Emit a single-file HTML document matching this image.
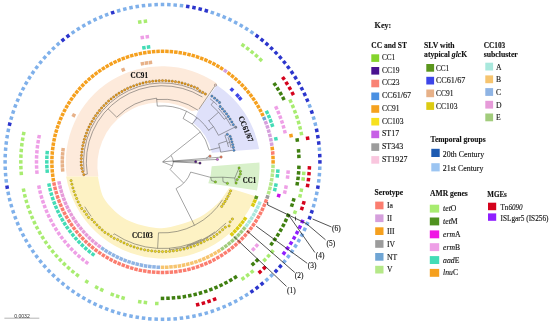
<!DOCTYPE html><html><head><meta charset="utf-8"><title>Figure</title><style>html,body{margin:0;padding:0;background:#fff}svg{display:block}</style></head><body><svg width="550" height="324" viewBox="0 0 550 324">
<rect width="550" height="324" fill="#fff"/>
<path d="M216.8 83.3A96.2 96.2 0 0 0 66.8 176.5L98.4 176.5A62.8 62.8 0 0 1 192 111.2L199 109.8Z" fill="#fdeadb"/>
<path d="M66.1 176.5A98.9 98.9 0 0 0 255.5 196.2L229.2 187.9C227.2 190.6 221.9 199.2 217.0 204.1C212.1 209.0 206.2 213.7 200.0 217.1C193.8 220.5 186.4 222.7 180.0 224.5C173.6 226.3 167.5 227.9 161.8 228.2C156.1 228.5 151.3 227.5 146.0 226.3C140.7 225.2 134.8 223.4 130.0 221.3C125.2 219.2 121.9 217.5 117.5 213.5C113.1 209.5 106.8 203.7 103.5 197.5C100.2 191.3 98.8 180.0 97.8 176.5Z" fill="#fdf2c4"/>
<path d="M217 85.2A97 97 0 0 1 259.1 149.1L211.9 152.8A50.5 50.5 0 0 0 193 122.8L198.5 110.2Z" fill="#dfe1fa"/>
<path d="M211.7 166.3L259.4 162.6A97 97 0 0 1 257 190.4L208.3 183.3A50 50 0 0 0 211.7 166.3Z" fill="#d8f0ca"/>
<path d="M162.5 161.9L171.3 155.3M162.5 161.9L172.2 165.8M170.1 169.5A10.7 10.7 0 0 0 171.1 155.5M171.1 155.1L200.2 132.1M209.1 150.2A48 48 0 0 0 183.1 118.5M183.1 118.5L186.5 111.3M209.1 130.8A56 56 0 0 0 157.3 106.1M192.1 124.1L197.0 117.8M157.3 106.1L156.6 98.2M156.6 98.2A64 64 0 0 0 116.7 117.2M198.1 110.3A62.7 62.7 0 0 0 156.7 99.5M198.9 109.2L214.8 86.2M116.7 117.2L108.0 108.7M202.4 97.0A76.2 76.2 0 0 0 87.3 174.1M202.0 93.5A79 79 0 0 0 84.1 171.4M87.3 174.1L84.5 174.6M208.6 130.1L213.5 126.7M218.5 135.3A62 62 0 0 0 208.4 120.2M218.5 135.3L234.3 127.4M208.9 120.8L218.6 112.2M224.2 119.3A75 75 0 0 0 211.1 104.8M211.1 104.8L213.7 101.7M217.2 104.9A79 79 0 0 0 210.0 98.7M224.2 119.3L226.3 117.9M231.1 125.9A77.5 77.5 0 0 0 218.4 108.2M209.1 150.2L219.7 147.5M220.7 152.2A59 59 0 0 0 218.6 143.7M220.7 152.2L232.0 150.3M218.6 143.7L226.9 141.0M228.5 147.0A67.7 67.7 0 0 0 224.9 135.6M231.1 147.9A70 70 0 0 0 228.0 137.1M224.9 135.6L226.5 134.9M227.5 143.1L229.7 142.4M163.0 161.8L173.0 161.0L206.0 158.3L209.0 156.3M206.0 158.3L220.0 157.2M173.0 161.3L216.5 159.5M173.0 161.6L195.0 161.8M173.0 161.8L199.5 163.2M170.1 169.5L183.4 182.8M176.1 188.6A30 30 0 0 0 190.7 172.1M190.7 172.1L210.7 177.4L222.8 177.2L234.8 178.0M210.7 177.4L211.5 180.5L214.6 181.6M222.8 177.2L223.0 181.7L226.5 183.1M234.8 178.0L235.4 182.5M234.8 178.0L238.6 169.0M176.0 188.7L194.5 225.3M158.5 232.8A71 71 0 0 0 222.5 199.8M158.5 232.8L157.6 248.4M114.2 233.8A86.6 86.6 0 0 0 201.8 239.1M169.6 249.8A88.2 88.2 0 0 0 226.1 223.0M169.5 248.2L169.6 249.8M84.8 206.7A89.7 89.7 0 0 0 91.2 216.4M114.2 233.8L113.4 234.9M186.8 245.8A87.4 87.4 0 0 0 215.0 231.8" fill="none" stroke="#4a4a4a" stroke-width="0.5"/>
<circle cx="205.4" cy="94.0" r="1.17" fill="#f5a21f" stroke="#3a3000" stroke-opacity="0.7" stroke-width="0.42"/>
<circle cx="202.7" cy="92.4" r="1.17" fill="#f5a21f" stroke="#3a3000" stroke-opacity="0.7" stroke-width="0.42"/>
<circle cx="199.8" cy="90.8" r="1.17" fill="#f5a21f" stroke="#3a3000" stroke-opacity="0.7" stroke-width="0.42"/>
<circle cx="197.4" cy="88.4" r="1.17" fill="#f5a21f" stroke="#3a3000" stroke-opacity="0.7" stroke-width="0.42"/>
<circle cx="194.4" cy="87.1" r="1.17" fill="#f5a21f" stroke="#3a3000" stroke-opacity="0.7" stroke-width="0.42"/>
<circle cx="191.3" cy="85.9" r="1.17" fill="#f5a21f" stroke="#3a3000" stroke-opacity="0.7" stroke-width="0.42"/>
<circle cx="188.2" cy="84.8" r="1.17" fill="#f5a21f" stroke="#3a3000" stroke-opacity="0.7" stroke-width="0.42"/>
<circle cx="185.1" cy="83.8" r="1.17" fill="#f5a21f" stroke="#3a3000" stroke-opacity="0.7" stroke-width="0.42"/>
<circle cx="182.0" cy="83.0" r="1.17" fill="#f5a21f" stroke="#3a3000" stroke-opacity="0.7" stroke-width="0.42"/>
<circle cx="178.8" cy="82.2" r="1.17" fill="#f5a21f" stroke="#3a3000" stroke-opacity="0.7" stroke-width="0.42"/>
<circle cx="175.5" cy="81.7" r="1.17" fill="#f5a21f" stroke="#3a3000" stroke-opacity="0.7" stroke-width="0.42"/>
<circle cx="172.3" cy="81.2" r="1.17" fill="#f5a21f" stroke="#3a3000" stroke-opacity="0.7" stroke-width="0.42"/>
<circle cx="169.0" cy="80.9" r="1.17" fill="#f5a21f" stroke="#3a3000" stroke-opacity="0.7" stroke-width="0.42"/>
<circle cx="165.8" cy="80.7" r="1.17" fill="#f5a21f" stroke="#3a3000" stroke-opacity="0.7" stroke-width="0.42"/>
<circle cx="162.5" cy="80.6" r="1.17" fill="#f5a21f" stroke="#3a3000" stroke-opacity="0.7" stroke-width="0.42"/>
<circle cx="159.2" cy="80.7" r="1.17" fill="#f5a21f" stroke="#3a3000" stroke-opacity="0.7" stroke-width="0.42"/>
<circle cx="156.0" cy="80.9" r="1.17" fill="#f5a21f" stroke="#3a3000" stroke-opacity="0.7" stroke-width="0.42"/>
<circle cx="152.7" cy="81.2" r="1.17" fill="#f5a21f" stroke="#3a3000" stroke-opacity="0.7" stroke-width="0.42"/>
<circle cx="149.5" cy="81.7" r="1.17" fill="#f5a21f" stroke="#3a3000" stroke-opacity="0.7" stroke-width="0.42"/>
<circle cx="146.2" cy="82.2" r="1.17" fill="#f5a21f" stroke="#3a3000" stroke-opacity="0.7" stroke-width="0.42"/>
<circle cx="143.0" cy="83.0" r="1.17" fill="#f5a21f" stroke="#3a3000" stroke-opacity="0.7" stroke-width="0.42"/>
<circle cx="139.9" cy="83.8" r="1.17" fill="#f5a21f" stroke="#3a3000" stroke-opacity="0.7" stroke-width="0.42"/>
<circle cx="136.8" cy="84.8" r="1.17" fill="#f5a21f" stroke="#3a3000" stroke-opacity="0.7" stroke-width="0.42"/>
<circle cx="133.7" cy="85.9" r="1.17" fill="#f5a21f" stroke="#3a3000" stroke-opacity="0.7" stroke-width="0.42"/>
<circle cx="130.6" cy="87.1" r="1.17" fill="#f5a21f" stroke="#3a3000" stroke-opacity="0.7" stroke-width="0.42"/>
<circle cx="127.6" cy="88.4" r="1.17" fill="#f5a21f" stroke="#3a3000" stroke-opacity="0.7" stroke-width="0.42"/>
<circle cx="124.7" cy="89.9" r="1.17" fill="#f5a21f" stroke="#3a3000" stroke-opacity="0.7" stroke-width="0.42"/>
<circle cx="121.9" cy="91.5" r="1.17" fill="#f5a21f" stroke="#3a3000" stroke-opacity="0.7" stroke-width="0.42"/>
<circle cx="119.0" cy="93.2" r="1.17" fill="#f5a21f" stroke="#3a3000" stroke-opacity="0.7" stroke-width="0.42"/>
<circle cx="116.3" cy="95.0" r="1.17" fill="#f5a21f" stroke="#3a3000" stroke-opacity="0.7" stroke-width="0.42"/>
<circle cx="113.7" cy="96.9" r="1.17" fill="#f5a21f" stroke="#3a3000" stroke-opacity="0.7" stroke-width="0.42"/>
<circle cx="111.1" cy="98.9" r="1.17" fill="#f5a21f" stroke="#3a3000" stroke-opacity="0.7" stroke-width="0.42"/>
<circle cx="108.6" cy="101.0" r="1.17" fill="#f5a21f" stroke="#3a3000" stroke-opacity="0.7" stroke-width="0.42"/>
<circle cx="106.2" cy="103.3" r="1.17" fill="#f5a21f" stroke="#3a3000" stroke-opacity="0.7" stroke-width="0.42"/>
<circle cx="103.9" cy="105.6" r="1.17" fill="#f5a21f" stroke="#3a3000" stroke-opacity="0.7" stroke-width="0.42"/>
<circle cx="101.6" cy="108.0" r="1.17" fill="#f5a21f" stroke="#3a3000" stroke-opacity="0.7" stroke-width="0.42"/>
<circle cx="99.5" cy="110.5" r="1.17" fill="#f5a21f" stroke="#3a3000" stroke-opacity="0.7" stroke-width="0.42"/>
<circle cx="97.5" cy="113.1" r="1.17" fill="#f5a21f" stroke="#3a3000" stroke-opacity="0.7" stroke-width="0.42"/>
<circle cx="95.6" cy="115.7" r="1.17" fill="#f5a21f" stroke="#3a3000" stroke-opacity="0.7" stroke-width="0.42"/>
<circle cx="93.8" cy="118.4" r="1.17" fill="#f5a21f" stroke="#3a3000" stroke-opacity="0.7" stroke-width="0.42"/>
<circle cx="92.1" cy="121.3" r="1.17" fill="#f5a21f" stroke="#3a3000" stroke-opacity="0.7" stroke-width="0.42"/>
<circle cx="90.5" cy="124.1" r="1.17" fill="#f5a21f" stroke="#3a3000" stroke-opacity="0.7" stroke-width="0.42"/>
<circle cx="89.0" cy="127.0" r="1.17" fill="#f5a21f" stroke="#3a3000" stroke-opacity="0.7" stroke-width="0.42"/>
<circle cx="87.7" cy="130.0" r="1.17" fill="#f5a21f" stroke="#3a3000" stroke-opacity="0.7" stroke-width="0.42"/>
<circle cx="86.5" cy="133.1" r="1.17" fill="#f5a21f" stroke="#3a3000" stroke-opacity="0.7" stroke-width="0.42"/>
<circle cx="85.4" cy="136.2" r="1.17" fill="#f5a21f" stroke="#3a3000" stroke-opacity="0.7" stroke-width="0.42"/>
<circle cx="84.4" cy="139.3" r="1.17" fill="#f5a21f" stroke="#3a3000" stroke-opacity="0.7" stroke-width="0.42"/>
<circle cx="83.6" cy="142.4" r="1.17" fill="#f5a21f" stroke="#3a3000" stroke-opacity="0.7" stroke-width="0.42"/>
<circle cx="82.8" cy="145.6" r="1.17" fill="#f5a21f" stroke="#3a3000" stroke-opacity="0.7" stroke-width="0.42"/>
<circle cx="82.3" cy="148.9" r="1.17" fill="#f5a21f" stroke="#3a3000" stroke-opacity="0.7" stroke-width="0.42"/>
<circle cx="81.8" cy="152.1" r="1.17" fill="#f5a21f" stroke="#3a3000" stroke-opacity="0.7" stroke-width="0.42"/>
<circle cx="81.5" cy="155.4" r="1.17" fill="#f5a21f" stroke="#3a3000" stroke-opacity="0.7" stroke-width="0.42"/>
<circle cx="81.3" cy="158.6" r="1.17" fill="#f5a21f" stroke="#3a3000" stroke-opacity="0.7" stroke-width="0.42"/>
<circle cx="81.2" cy="161.9" r="1.17" fill="#f5a21f" stroke="#3a3000" stroke-opacity="0.7" stroke-width="0.42"/>
<circle cx="81.3" cy="165.2" r="1.17" fill="#f5a21f" stroke="#3a3000" stroke-opacity="0.7" stroke-width="0.42"/>
<circle cx="81.8" cy="168.4" r="1.17" fill="#f5a21f" stroke="#3a3000" stroke-opacity="0.7" stroke-width="0.42"/>
<circle cx="82.7" cy="171.6" r="1.17" fill="#f5a21f" stroke="#3a3000" stroke-opacity="0.7" stroke-width="0.42"/>
<circle cx="83.8" cy="174.7" r="1.17" fill="#f5a21f" stroke="#3a3000" stroke-opacity="0.7" stroke-width="0.42"/>
<circle cx="215.5" cy="85.1" r="1.17" fill="#e3c8d2" stroke="#3a3000" stroke-opacity="0.7" stroke-width="0.42"/>
<circle cx="219.5" cy="102.5" r="1.17" fill="#4a90e2" stroke="#3a3000" stroke-opacity="0.7" stroke-width="0.42"/>
<circle cx="217.1" cy="100.3" r="1.17" fill="#4a90e2" stroke="#3a3000" stroke-opacity="0.7" stroke-width="0.42"/>
<circle cx="214.6" cy="98.2" r="1.17" fill="#4a90e2" stroke="#3a3000" stroke-opacity="0.7" stroke-width="0.42"/>
<circle cx="211.9" cy="96.1" r="1.17" fill="#4a90e2" stroke="#3a3000" stroke-opacity="0.7" stroke-width="0.42"/>
<circle cx="233.3" cy="124.7" r="1.17" fill="#4a90e2" stroke="#3a3000" stroke-opacity="0.7" stroke-width="0.42"/>
<circle cx="231.8" cy="121.9" r="1.17" fill="#4a90e2" stroke="#3a3000" stroke-opacity="0.7" stroke-width="0.42"/>
<circle cx="230.1" cy="119.1" r="1.17" fill="#4a90e2" stroke="#3a3000" stroke-opacity="0.7" stroke-width="0.42"/>
<circle cx="228.3" cy="116.5" r="1.17" fill="#4a90e2" stroke="#3a3000" stroke-opacity="0.7" stroke-width="0.42"/>
<circle cx="226.5" cy="113.8" r="1.17" fill="#4a90e2" stroke="#3a3000" stroke-opacity="0.7" stroke-width="0.42"/>
<circle cx="224.5" cy="111.3" r="1.17" fill="#4a90e2" stroke="#3a3000" stroke-opacity="0.7" stroke-width="0.42"/>
<circle cx="222.4" cy="108.9" r="1.17" fill="#4a90e2" stroke="#3a3000" stroke-opacity="0.7" stroke-width="0.42"/>
<circle cx="220.2" cy="106.5" r="1.17" fill="#4a90e2" stroke="#3a3000" stroke-opacity="0.7" stroke-width="0.42"/>
<circle cx="235.7" cy="127.2" r="1.17" fill="#7f8fb5" stroke="#3a3000" stroke-opacity="0.7" stroke-width="0.42"/>
<circle cx="233.9" cy="150.3" r="1.17" fill="#4a90e2" stroke="#3a3000" stroke-opacity="0.7" stroke-width="0.42"/>
<circle cx="233.3" cy="147.4" r="1.17" fill="#4a90e2" stroke="#3a3000" stroke-opacity="0.7" stroke-width="0.42"/>
<circle cx="232.7" cy="144.6" r="1.17" fill="#4a90e2" stroke="#3a3000" stroke-opacity="0.7" stroke-width="0.42"/>
<circle cx="231.9" cy="141.8" r="1.17" fill="#4a90e2" stroke="#3a3000" stroke-opacity="0.7" stroke-width="0.42"/>
<circle cx="231.1" cy="139.0" r="1.17" fill="#4a90e2" stroke="#3a3000" stroke-opacity="0.7" stroke-width="0.42"/>
<circle cx="230.1" cy="136.3" r="1.17" fill="#4a90e2" stroke="#3a3000" stroke-opacity="0.7" stroke-width="0.42"/>
<circle cx="227.3" cy="134.3" r="1.17" fill="#4a90e2" stroke="#3a3000" stroke-opacity="0.7" stroke-width="0.42"/>
<circle cx="71.1" cy="180.6" r="1.17" fill="#f7e11e" stroke="#3a3000" stroke-opacity="0.7" stroke-width="0.42"/>
<circle cx="71.9" cy="184.2" r="1.17" fill="#f7e11e" stroke="#3a3000" stroke-opacity="0.7" stroke-width="0.42"/>
<circle cx="72.9" cy="187.9" r="1.17" fill="#f7e11e" stroke="#3a3000" stroke-opacity="0.7" stroke-width="0.42"/>
<circle cx="74.0" cy="191.4" r="1.17" fill="#f7e11e" stroke="#3a3000" stroke-opacity="0.7" stroke-width="0.42"/>
<circle cx="75.3" cy="195.0" r="1.17" fill="#f7e11e" stroke="#3a3000" stroke-opacity="0.7" stroke-width="0.42"/>
<circle cx="76.7" cy="198.5" r="1.17" fill="#f7e11e" stroke="#3a3000" stroke-opacity="0.7" stroke-width="0.42"/>
<circle cx="78.2" cy="201.9" r="1.17" fill="#f7e11e" stroke="#3a3000" stroke-opacity="0.7" stroke-width="0.42"/>
<circle cx="79.9" cy="205.3" r="1.17" fill="#f7e11e" stroke="#3a3000" stroke-opacity="0.7" stroke-width="0.42"/>
<circle cx="81.7" cy="208.5" r="1.17" fill="#f7e11e" stroke="#3a3000" stroke-opacity="0.7" stroke-width="0.42"/>
<circle cx="84.4" cy="211.3" r="1.17" fill="#f7e11e" stroke="#3a3000" stroke-opacity="0.7" stroke-width="0.42"/>
<circle cx="86.5" cy="214.4" r="1.17" fill="#f7e11e" stroke="#3a3000" stroke-opacity="0.7" stroke-width="0.42"/>
<circle cx="88.6" cy="217.4" r="1.17" fill="#f7e11e" stroke="#3a3000" stroke-opacity="0.7" stroke-width="0.42"/>
<circle cx="92.0" cy="219.5" r="1.17" fill="#f7e11e" stroke="#3a3000" stroke-opacity="0.7" stroke-width="0.42"/>
<circle cx="94.4" cy="222.2" r="1.17" fill="#f7e11e" stroke="#3a3000" stroke-opacity="0.7" stroke-width="0.42"/>
<circle cx="96.9" cy="224.9" r="1.17" fill="#f7e11e" stroke="#3a3000" stroke-opacity="0.7" stroke-width="0.42"/>
<circle cx="99.5" cy="227.5" r="1.17" fill="#f7e11e" stroke="#3a3000" stroke-opacity="0.7" stroke-width="0.42"/>
<circle cx="102.2" cy="230.0" r="1.17" fill="#f7e11e" stroke="#3a3000" stroke-opacity="0.7" stroke-width="0.42"/>
<circle cx="104.9" cy="232.4" r="1.17" fill="#f7e11e" stroke="#3a3000" stroke-opacity="0.7" stroke-width="0.42"/>
<circle cx="108.2" cy="234.2" r="1.17" fill="#f7e11e" stroke="#3a3000" stroke-opacity="0.7" stroke-width="0.42"/>
<circle cx="111.1" cy="236.3" r="1.17" fill="#f7e11e" stroke="#3a3000" stroke-opacity="0.7" stroke-width="0.42"/>
<circle cx="114.2" cy="238.3" r="1.17" fill="#f7e11e" stroke="#3a3000" stroke-opacity="0.7" stroke-width="0.42"/>
<circle cx="117.6" cy="239.6" r="1.17" fill="#f7e11e" stroke="#3a3000" stroke-opacity="0.7" stroke-width="0.42"/>
<circle cx="120.8" cy="241.3" r="1.17" fill="#f7e11e" stroke="#3a3000" stroke-opacity="0.7" stroke-width="0.42"/>
<circle cx="124.0" cy="242.9" r="1.17" fill="#f7e11e" stroke="#3a3000" stroke-opacity="0.7" stroke-width="0.42"/>
<circle cx="127.3" cy="244.4" r="1.17" fill="#f7e11e" stroke="#3a3000" stroke-opacity="0.7" stroke-width="0.42"/>
<circle cx="130.7" cy="245.8" r="1.17" fill="#f7e11e" stroke="#3a3000" stroke-opacity="0.7" stroke-width="0.42"/>
<circle cx="134.1" cy="247.0" r="1.17" fill="#f7e11e" stroke="#3a3000" stroke-opacity="0.7" stroke-width="0.42"/>
<circle cx="137.5" cy="248.1" r="1.17" fill="#f7e11e" stroke="#3a3000" stroke-opacity="0.7" stroke-width="0.42"/>
<circle cx="141.0" cy="249.0" r="1.17" fill="#f7e11e" stroke="#3a3000" stroke-opacity="0.7" stroke-width="0.42"/>
<circle cx="144.6" cy="249.8" r="1.17" fill="#f7e11e" stroke="#3a3000" stroke-opacity="0.7" stroke-width="0.42"/>
<circle cx="148.1" cy="250.4" r="1.17" fill="#f7e11e" stroke="#3a3000" stroke-opacity="0.7" stroke-width="0.42"/>
<circle cx="151.7" cy="250.9" r="1.17" fill="#f7e11e" stroke="#3a3000" stroke-opacity="0.7" stroke-width="0.42"/>
<circle cx="155.3" cy="251.3" r="1.17" fill="#f7e11e" stroke="#3a3000" stroke-opacity="0.7" stroke-width="0.42"/>
<circle cx="158.9" cy="251.5" r="1.17" fill="#f7e11e" stroke="#3a3000" stroke-opacity="0.7" stroke-width="0.42"/>
<circle cx="162.5" cy="251.6" r="1.17" fill="#f7e11e" stroke="#3a3000" stroke-opacity="0.7" stroke-width="0.42"/>
<circle cx="166.1" cy="251.5" r="1.17" fill="#f7e11e" stroke="#3a3000" stroke-opacity="0.7" stroke-width="0.42"/>
<circle cx="169.7" cy="251.3" r="1.17" fill="#f7e11e" stroke="#3a3000" stroke-opacity="0.7" stroke-width="0.42"/>
<circle cx="173.3" cy="250.9" r="1.17" fill="#f7e11e" stroke="#3a3000" stroke-opacity="0.7" stroke-width="0.42"/>
<circle cx="176.9" cy="250.4" r="1.17" fill="#f7e11e" stroke="#3a3000" stroke-opacity="0.7" stroke-width="0.42"/>
<circle cx="180.4" cy="249.8" r="1.17" fill="#f7e11e" stroke="#3a3000" stroke-opacity="0.7" stroke-width="0.42"/>
<circle cx="184.0" cy="249.0" r="1.17" fill="#f7e11e" stroke="#3a3000" stroke-opacity="0.7" stroke-width="0.42"/>
<circle cx="187.5" cy="248.1" r="1.17" fill="#f7e11e" stroke="#3a3000" stroke-opacity="0.7" stroke-width="0.42"/>
<circle cx="190.9" cy="247.0" r="1.17" fill="#f7e11e" stroke="#3a3000" stroke-opacity="0.7" stroke-width="0.42"/>
<circle cx="194.3" cy="245.8" r="1.17" fill="#f7e11e" stroke="#3a3000" stroke-opacity="0.7" stroke-width="0.42"/>
<circle cx="197.7" cy="244.4" r="1.17" fill="#f7e11e" stroke="#3a3000" stroke-opacity="0.7" stroke-width="0.42"/>
<circle cx="201.0" cy="242.9" r="1.17" fill="#f7e11e" stroke="#3a3000" stroke-opacity="0.7" stroke-width="0.42"/>
<circle cx="204.2" cy="241.3" r="1.17" fill="#f7e11e" stroke="#3a3000" stroke-opacity="0.7" stroke-width="0.42"/>
<circle cx="207.4" cy="239.6" r="1.17" fill="#f7e11e" stroke="#3a3000" stroke-opacity="0.7" stroke-width="0.42"/>
<circle cx="210.9" cy="238.5" r="1.17" fill="#f7e11e" stroke="#3a3000" stroke-opacity="0.7" stroke-width="0.42"/>
<circle cx="214.0" cy="236.5" r="1.17" fill="#f7e11e" stroke="#3a3000" stroke-opacity="0.7" stroke-width="0.42"/>
<circle cx="216.9" cy="234.3" r="1.17" fill="#f7e11e" stroke="#3a3000" stroke-opacity="0.7" stroke-width="0.42"/>
<circle cx="219.8" cy="232.1" r="1.17" fill="#f7e11e" stroke="#3a3000" stroke-opacity="0.7" stroke-width="0.42"/>
<circle cx="222.6" cy="229.7" r="1.17" fill="#f7e11e" stroke="#3a3000" stroke-opacity="0.7" stroke-width="0.42"/>
<circle cx="225.3" cy="227.2" r="1.17" fill="#f7e11e" stroke="#3a3000" stroke-opacity="0.7" stroke-width="0.42"/>
<circle cx="229.1" cy="225.9" r="1.17" fill="#f7e11e" stroke="#3a3000" stroke-opacity="0.7" stroke-width="0.42"/>
<circle cx="230.1" cy="221.8" r="1.17" fill="#f7e11e" stroke="#3a3000" stroke-opacity="0.7" stroke-width="0.42"/>
<circle cx="232.4" cy="219.0" r="1.17" fill="#f7e11e" stroke="#3a3000" stroke-opacity="0.7" stroke-width="0.42"/>
<circle cx="221.7" cy="206.4" r="1.17" fill="#f7e11e" stroke="#3a3000" stroke-opacity="0.7" stroke-width="0.42"/>
<circle cx="223.4" cy="203.9" r="1.17" fill="#f7e11e" stroke="#3a3000" stroke-opacity="0.7" stroke-width="0.42"/>
<circle cx="225.0" cy="201.5" r="1.17" fill="#f7e11e" stroke="#3a3000" stroke-opacity="0.7" stroke-width="0.42"/>
<circle cx="226.6" cy="198.9" r="1.17" fill="#f7e11e" stroke="#3a3000" stroke-opacity="0.7" stroke-width="0.42"/>
<circle cx="228.0" cy="196.3" r="1.17" fill="#f7e11e" stroke="#3a3000" stroke-opacity="0.7" stroke-width="0.42"/>
<circle cx="229.4" cy="193.6" r="1.17" fill="#f7e11e" stroke="#3a3000" stroke-opacity="0.7" stroke-width="0.42"/>
<circle cx="230.6" cy="190.9" r="1.17" fill="#f7e11e" stroke="#3a3000" stroke-opacity="0.7" stroke-width="0.42"/>
<circle cx="239.1" cy="168.0" r="1.17" fill="#84d42c" stroke="#3a3000" stroke-opacity="0.7" stroke-width="0.42"/>
<circle cx="240.4" cy="171.3" r="1.17" fill="#84d42c" stroke="#3a3000" stroke-opacity="0.7" stroke-width="0.42"/>
<circle cx="240.4" cy="174.1" r="1.17" fill="#84d42c" stroke="#3a3000" stroke-opacity="0.7" stroke-width="0.42"/>
<circle cx="239.1" cy="176.9" r="1.17" fill="#84d42c" stroke="#3a3000" stroke-opacity="0.7" stroke-width="0.42"/>
<circle cx="237.2" cy="179.6" r="1.17" fill="#84d42c" stroke="#3a3000" stroke-opacity="0.7" stroke-width="0.42"/>
<circle cx="236.1" cy="183.0" r="1.17" fill="#84d42c" stroke="#3a3000" stroke-opacity="0.7" stroke-width="0.42"/>
<circle cx="227.4" cy="183.3" r="1.17" fill="#84d42c" stroke="#3a3000" stroke-opacity="0.7" stroke-width="0.42"/>
<circle cx="215.4" cy="181.9" r="1.17" fill="#84d42c" stroke="#3a3000" stroke-opacity="0.7" stroke-width="0.42"/>
<circle cx="210.0" cy="156.1" r="1.17" fill="#f98274" stroke="#3a3000" stroke-opacity="0.7" stroke-width="0.42"/>
<circle cx="221.1" cy="157.0" r="1.17" fill="#f98274" stroke="#3a3000" stroke-opacity="0.7" stroke-width="0.42"/>
<circle cx="217.4" cy="159.4" r="1.17" fill="#c75fe6" stroke="#3a3000" stroke-opacity="0.7" stroke-width="0.42"/>
<circle cx="195.7" cy="161.7" r="1.17" fill="#4a1290" stroke="#3a3000" stroke-opacity="0.7" stroke-width="0.42"/>
<circle cx="200.0" cy="163.1" r="1.17" fill="#4a1290" stroke="#3a3000" stroke-opacity="0.7" stroke-width="0.42"/>
<rect x="-1.75" y="-1.75" width="3.5" height="3.5" fill="#2b35cc" transform="translate(319.90 161.90) rotate(0.0)"/>
<rect x="-1.75" y="-1.75" width="3.5" height="3.5" fill="#2b35cc" transform="translate(319.77 155.56) rotate(-2.3)"/>
<rect x="-1.75" y="-1.75" width="3.5" height="3.5" fill="#7fb0ea" transform="translate(319.39 149.23) rotate(-4.6)"/>
<rect x="-1.75" y="-1.75" width="3.5" height="3.5" fill="#2b35cc" transform="translate(318.75 142.93) rotate(-6.9)"/>
<rect x="-1.75" y="-1.75" width="3.5" height="3.5" fill="#2b35cc" transform="translate(317.86 136.65) rotate(-9.2)"/>
<rect x="-1.75" y="-1.75" width="3.5" height="3.5" fill="#2b35cc" transform="translate(316.72 130.42) rotate(-11.5)"/>
<rect x="-1.75" y="-1.75" width="3.5" height="3.5" fill="#7fb0ea" transform="translate(315.33 124.23) rotate(-13.8)"/>
<rect x="-1.75" y="-1.75" width="3.5" height="3.5" fill="#7fb0ea" transform="translate(313.69 118.11) rotate(-16.2)"/>
<rect x="-1.75" y="-1.75" width="3.5" height="3.5" fill="#2b35cc" transform="translate(311.80 112.06) rotate(-18.5)"/>
<rect x="-1.75" y="-1.75" width="3.5" height="3.5" fill="#7fb0ea" transform="translate(309.67 106.09) rotate(-20.8)"/>
<rect x="-1.75" y="-1.75" width="3.5" height="3.5" fill="#2b35cc" transform="translate(307.30 100.20) rotate(-23.1)"/>
<rect x="-1.75" y="-1.75" width="3.5" height="3.5" fill="#2b35cc" transform="translate(304.70 94.42) rotate(-25.4)"/>
<rect x="-1.75" y="-1.75" width="3.5" height="3.5" fill="#2b35cc" transform="translate(301.87 88.75) rotate(-27.7)"/>
<rect x="-1.75" y="-1.75" width="3.5" height="3.5" fill="#2b35cc" transform="translate(298.81 83.20) rotate(-30.0)"/>
<rect x="-1.75" y="-1.75" width="3.5" height="3.5" fill="#2b35cc" transform="translate(295.53 77.78) rotate(-32.3)"/>
<rect x="-1.75" y="-1.75" width="3.5" height="3.5" fill="#2b35cc" transform="translate(292.04 72.49) rotate(-34.6)"/>
<rect x="-1.75" y="-1.75" width="3.5" height="3.5" fill="#2b35cc" transform="translate(288.33 67.34) rotate(-36.9)"/>
<rect x="-1.75" y="-1.75" width="3.5" height="3.5" fill="#2b35cc" transform="translate(284.42 62.35) rotate(-39.2)"/>
<rect x="-1.75" y="-1.75" width="3.5" height="3.5" fill="#2b35cc" transform="translate(280.32 57.52) rotate(-41.5)"/>
<rect x="-1.75" y="-1.75" width="3.5" height="3.5" fill="#2b35cc" transform="translate(276.02 52.87) rotate(-43.8)"/>
<rect x="-1.75" y="-1.75" width="3.5" height="3.5" fill="#2b35cc" transform="translate(271.53 48.38) rotate(-46.2)"/>
<rect x="-1.75" y="-1.75" width="3.5" height="3.5" fill="#2b35cc" transform="translate(266.88 44.08) rotate(-48.5)"/>
<rect x="-1.75" y="-1.75" width="3.5" height="3.5" fill="#2b35cc" transform="translate(262.05 39.98) rotate(-50.8)"/>
<rect x="-1.75" y="-1.75" width="3.5" height="3.5" fill="#2b35cc" transform="translate(257.06 36.07) rotate(-53.1)"/>
<rect x="-1.75" y="-1.75" width="3.5" height="3.5" fill="#7fb0ea" transform="translate(251.91 32.36) rotate(-55.4)"/>
<rect x="-1.75" y="-1.75" width="3.5" height="3.5" fill="#7fb0ea" transform="translate(246.62 28.87) rotate(-57.7)"/>
<rect x="-1.75" y="-1.75" width="3.5" height="3.5" fill="#7fb0ea" transform="translate(241.20 25.59) rotate(-60.0)"/>
<rect x="-1.75" y="-1.75" width="3.5" height="3.5" fill="#7fb0ea" transform="translate(235.65 22.53) rotate(-62.3)"/>
<rect x="-1.75" y="-1.75" width="3.5" height="3.5" fill="#7fb0ea" transform="translate(229.98 19.70) rotate(-64.6)"/>
<rect x="-1.75" y="-1.75" width="3.5" height="3.5" fill="#7fb0ea" transform="translate(224.20 17.10) rotate(-66.9)"/>
<rect x="-1.75" y="-1.75" width="3.5" height="3.5" fill="#7fb0ea" transform="translate(218.31 14.73) rotate(-69.2)"/>
<rect x="-1.75" y="-1.75" width="3.5" height="3.5" fill="#7fb0ea" transform="translate(212.34 12.60) rotate(-71.5)"/>
<rect x="-1.75" y="-1.75" width="3.5" height="3.5" fill="#2b35cc" transform="translate(206.29 10.71) rotate(-73.8)"/>
<rect x="-1.75" y="-1.75" width="3.5" height="3.5" fill="#2b35cc" transform="translate(200.17 9.07) rotate(-76.2)"/>
<rect x="-1.75" y="-1.75" width="3.5" height="3.5" fill="#2b35cc" transform="translate(193.98 7.68) rotate(-78.5)"/>
<rect x="-1.75" y="-1.75" width="3.5" height="3.5" fill="#2b35cc" transform="translate(187.75 6.54) rotate(-80.8)"/>
<rect x="-1.75" y="-1.75" width="3.5" height="3.5" fill="#7fb0ea" transform="translate(181.47 5.65) rotate(-83.1)"/>
<rect x="-1.75" y="-1.75" width="3.5" height="3.5" fill="#7fb0ea" transform="translate(175.17 5.01) rotate(-85.4)"/>
<rect x="-1.75" y="-1.75" width="3.5" height="3.5" fill="#7fb0ea" transform="translate(168.84 4.63) rotate(-87.7)"/>
<rect x="-1.75" y="-1.75" width="3.5" height="3.5" fill="#7fb0ea" transform="translate(162.50 4.50) rotate(-90.0)"/>
<rect x="-1.75" y="-1.75" width="3.5" height="3.5" fill="#7fb0ea" transform="translate(156.16 4.63) rotate(-92.3)"/>
<rect x="-1.75" y="-1.75" width="3.5" height="3.5" fill="#7fb0ea" transform="translate(149.83 5.01) rotate(-94.6)"/>
<rect x="-1.75" y="-1.75" width="3.5" height="3.5" fill="#7fb0ea" transform="translate(143.53 5.65) rotate(-96.9)"/>
<rect x="-1.75" y="-1.75" width="3.5" height="3.5" fill="#7fb0ea" transform="translate(137.25 6.54) rotate(-99.2)"/>
<rect x="-1.75" y="-1.75" width="3.5" height="3.5" fill="#7fb0ea" transform="translate(131.02 7.68) rotate(-101.5)"/>
<rect x="-1.75" y="-1.75" width="3.5" height="3.5" fill="#7fb0ea" transform="translate(124.83 9.07) rotate(-103.8)"/>
<rect x="-1.75" y="-1.75" width="3.5" height="3.5" fill="#7fb0ea" transform="translate(118.71 10.71) rotate(-106.2)"/>
<rect x="-1.75" y="-1.75" width="3.5" height="3.5" fill="#2b35cc" transform="translate(112.66 12.60) rotate(-108.5)"/>
<rect x="-1.75" y="-1.75" width="3.5" height="3.5" fill="#7fb0ea" transform="translate(106.69 14.73) rotate(-110.8)"/>
<rect x="-1.75" y="-1.75" width="3.5" height="3.5" fill="#7fb0ea" transform="translate(100.80 17.10) rotate(-113.1)"/>
<rect x="-1.75" y="-1.75" width="3.5" height="3.5" fill="#7fb0ea" transform="translate(95.02 19.70) rotate(-115.4)"/>
<rect x="-1.75" y="-1.75" width="3.5" height="3.5" fill="#7fb0ea" transform="translate(89.35 22.53) rotate(-117.7)"/>
<rect x="-1.75" y="-1.75" width="3.5" height="3.5" fill="#7fb0ea" transform="translate(83.80 25.59) rotate(-120.0)"/>
<rect x="-1.75" y="-1.75" width="3.5" height="3.5" fill="#7fb0ea" transform="translate(78.38 28.87) rotate(-122.3)"/>
<rect x="-1.75" y="-1.75" width="3.5" height="3.5" fill="#7fb0ea" transform="translate(73.09 32.36) rotate(-124.6)"/>
<rect x="-1.75" y="-1.75" width="3.5" height="3.5" fill="#2b35cc" transform="translate(67.94 36.07) rotate(-126.9)"/>
<rect x="-1.75" y="-1.75" width="3.5" height="3.5" fill="#2b35cc" transform="translate(62.95 39.98) rotate(-129.2)"/>
<rect x="-1.75" y="-1.75" width="3.5" height="3.5" fill="#7fb0ea" transform="translate(58.12 44.08) rotate(-131.5)"/>
<rect x="-1.75" y="-1.75" width="3.5" height="3.5" fill="#7fb0ea" transform="translate(53.47 48.38) rotate(-133.8)"/>
<rect x="-1.75" y="-1.75" width="3.5" height="3.5" fill="#7fb0ea" transform="translate(48.98 52.87) rotate(-136.2)"/>
<rect x="-1.75" y="-1.75" width="3.5" height="3.5" fill="#7fb0ea" transform="translate(44.68 57.52) rotate(-138.5)"/>
<rect x="-1.75" y="-1.75" width="3.5" height="3.5" fill="#7fb0ea" transform="translate(40.58 62.35) rotate(-140.8)"/>
<rect x="-1.75" y="-1.75" width="3.5" height="3.5" fill="#7fb0ea" transform="translate(36.67 67.34) rotate(-143.1)"/>
<rect x="-1.75" y="-1.75" width="3.5" height="3.5" fill="#7fb0ea" transform="translate(32.96 72.49) rotate(-145.4)"/>
<rect x="-1.75" y="-1.75" width="3.5" height="3.5" fill="#7fb0ea" transform="translate(29.47 77.78) rotate(-147.7)"/>
<rect x="-1.75" y="-1.75" width="3.5" height="3.5" fill="#7fb0ea" transform="translate(26.19 83.20) rotate(-150.0)"/>
<rect x="-1.75" y="-1.75" width="3.5" height="3.5" fill="#7fb0ea" transform="translate(23.13 88.75) rotate(-152.3)"/>
<rect x="-1.75" y="-1.75" width="3.5" height="3.5" fill="#7fb0ea" transform="translate(20.30 94.42) rotate(-154.6)"/>
<rect x="-1.75" y="-1.75" width="3.5" height="3.5" fill="#7fb0ea" transform="translate(17.70 100.20) rotate(-156.9)"/>
<rect x="-1.75" y="-1.75" width="3.5" height="3.5" fill="#7fb0ea" transform="translate(15.33 106.09) rotate(-159.2)"/>
<rect x="-1.75" y="-1.75" width="3.5" height="3.5" fill="#7fb0ea" transform="translate(13.20 112.06) rotate(-161.5)"/>
<rect x="-1.75" y="-1.75" width="3.5" height="3.5" fill="#7fb0ea" transform="translate(11.31 118.11) rotate(-163.8)"/>
<rect x="-1.75" y="-1.75" width="3.5" height="3.5" fill="#2b35cc" transform="translate(9.67 124.23) rotate(-166.2)"/>
<rect x="-1.75" y="-1.75" width="3.5" height="3.5" fill="#7fb0ea" transform="translate(8.28 130.42) rotate(-168.5)"/>
<rect x="-1.75" y="-1.75" width="3.5" height="3.5" fill="#7fb0ea" transform="translate(7.14 136.65) rotate(-170.8)"/>
<rect x="-1.75" y="-1.75" width="3.5" height="3.5" fill="#7fb0ea" transform="translate(6.25 142.93) rotate(-173.1)"/>
<rect x="-1.75" y="-1.75" width="3.5" height="3.5" fill="#7fb0ea" transform="translate(5.61 149.23) rotate(-175.4)"/>
<rect x="-1.75" y="-1.75" width="3.5" height="3.5" fill="#7fb0ea" transform="translate(5.23 155.56) rotate(-177.7)"/>
<rect x="-1.75" y="-1.75" width="3.5" height="3.5" fill="#7fb0ea" transform="translate(5.10 161.90) rotate(-180.0)"/>
<rect x="-1.75" y="-1.75" width="3.5" height="3.5" fill="#7fb0ea" transform="translate(5.23 168.24) rotate(-182.3)"/>
<rect x="-1.75" y="-1.75" width="3.5" height="3.5" fill="#7fb0ea" transform="translate(5.61 174.57) rotate(-184.6)"/>
<rect x="-1.75" y="-1.75" width="3.5" height="3.5" fill="#7fb0ea" transform="translate(6.25 180.87) rotate(-186.9)"/>
<rect x="-1.75" y="-1.75" width="3.5" height="3.5" fill="#2b35cc" transform="translate(7.14 187.15) rotate(-189.2)"/>
<rect x="-1.75" y="-1.75" width="3.5" height="3.5" fill="#7fb0ea" transform="translate(8.28 193.38) rotate(-191.5)"/>
<rect x="-1.75" y="-1.75" width="3.5" height="3.5" fill="#7fb0ea" transform="translate(9.67 199.57) rotate(-193.8)"/>
<rect x="-1.75" y="-1.75" width="3.5" height="3.5" fill="#7fb0ea" transform="translate(11.31 205.69) rotate(-196.2)"/>
<rect x="-1.75" y="-1.75" width="3.5" height="3.5" fill="#7fb0ea" transform="translate(13.20 211.74) rotate(-198.5)"/>
<rect x="-1.75" y="-1.75" width="3.5" height="3.5" fill="#7fb0ea" transform="translate(15.33 217.71) rotate(-200.8)"/>
<rect x="-1.75" y="-1.75" width="3.5" height="3.5" fill="#7fb0ea" transform="translate(17.70 223.60) rotate(-203.1)"/>
<rect x="-1.75" y="-1.75" width="3.5" height="3.5" fill="#7fb0ea" transform="translate(20.30 229.38) rotate(-205.4)"/>
<rect x="-1.75" y="-1.75" width="3.5" height="3.5" fill="#7fb0ea" transform="translate(23.13 235.05) rotate(-207.7)"/>
<rect x="-1.75" y="-1.75" width="3.5" height="3.5" fill="#7fb0ea" transform="translate(26.19 240.60) rotate(-210.0)"/>
<rect x="-1.75" y="-1.75" width="3.5" height="3.5" fill="#7fb0ea" transform="translate(29.47 246.02) rotate(-212.3)"/>
<rect x="-1.75" y="-1.75" width="3.5" height="3.5" fill="#7fb0ea" transform="translate(32.96 251.31) rotate(-214.6)"/>
<rect x="-1.75" y="-1.75" width="3.5" height="3.5" fill="#7fb0ea" transform="translate(36.67 256.46) rotate(-216.9)"/>
<rect x="-1.75" y="-1.75" width="3.5" height="3.5" fill="#7fb0ea" transform="translate(40.58 261.45) rotate(-219.2)"/>
<rect x="-1.75" y="-1.75" width="3.5" height="3.5" fill="#7fb0ea" transform="translate(44.68 266.28) rotate(-221.5)"/>
<rect x="-1.75" y="-1.75" width="3.5" height="3.5" fill="#7fb0ea" transform="translate(48.98 270.93) rotate(-223.8)"/>
<rect x="-1.75" y="-1.75" width="3.5" height="3.5" fill="#7fb0ea" transform="translate(53.47 275.42) rotate(-226.2)"/>
<rect x="-1.75" y="-1.75" width="3.5" height="3.5" fill="#7fb0ea" transform="translate(58.12 279.72) rotate(-228.5)"/>
<rect x="-1.75" y="-1.75" width="3.5" height="3.5" fill="#7fb0ea" transform="translate(62.95 283.82) rotate(-230.8)"/>
<rect x="-1.75" y="-1.75" width="3.5" height="3.5" fill="#7fb0ea" transform="translate(67.94 287.73) rotate(-233.1)"/>
<rect x="-1.75" y="-1.75" width="3.5" height="3.5" fill="#7fb0ea" transform="translate(73.09 291.44) rotate(-235.4)"/>
<rect x="-1.75" y="-1.75" width="3.5" height="3.5" fill="#7fb0ea" transform="translate(78.38 294.93) rotate(-237.7)"/>
<rect x="-1.75" y="-1.75" width="3.5" height="3.5" fill="#7fb0ea" transform="translate(83.80 298.21) rotate(-240.0)"/>
<rect x="-1.75" y="-1.75" width="3.5" height="3.5" fill="#7fb0ea" transform="translate(89.35 301.27) rotate(-242.3)"/>
<rect x="-1.75" y="-1.75" width="3.5" height="3.5" fill="#7fb0ea" transform="translate(95.02 304.10) rotate(-244.6)"/>
<rect x="-1.75" y="-1.75" width="3.5" height="3.5" fill="#7fb0ea" transform="translate(100.80 306.70) rotate(-246.9)"/>
<rect x="-1.75" y="-1.75" width="3.5" height="3.5" fill="#7fb0ea" transform="translate(106.69 309.07) rotate(-249.2)"/>
<rect x="-1.75" y="-1.75" width="3.5" height="3.5" fill="#7fb0ea" transform="translate(112.66 311.20) rotate(-251.5)"/>
<rect x="-1.75" y="-1.75" width="3.5" height="3.5" fill="#7fb0ea" transform="translate(118.71 313.09) rotate(-253.8)"/>
<rect x="-1.75" y="-1.75" width="3.5" height="3.5" fill="#7fb0ea" transform="translate(124.83 314.73) rotate(-256.2)"/>
<rect x="-1.75" y="-1.75" width="3.5" height="3.5" fill="#7fb0ea" transform="translate(131.02 316.12) rotate(-258.5)"/>
<rect x="-1.75" y="-1.75" width="3.5" height="3.5" fill="#7fb0ea" transform="translate(137.25 317.26) rotate(-260.8)"/>
<rect x="-1.75" y="-1.75" width="3.5" height="3.5" fill="#7fb0ea" transform="translate(143.53 318.15) rotate(-263.1)"/>
<rect x="-1.75" y="-1.75" width="3.5" height="3.5" fill="#7fb0ea" transform="translate(149.83 318.79) rotate(-265.4)"/>
<rect x="-1.75" y="-1.75" width="3.5" height="3.5" fill="#7fb0ea" transform="translate(156.16 319.17) rotate(-267.7)"/>
<rect x="-1.75" y="-1.75" width="3.5" height="3.5" fill="#7fb0ea" transform="translate(162.50 319.30) rotate(-270.0)"/>
<rect x="-1.75" y="-1.75" width="3.5" height="3.5" fill="#7fb0ea" transform="translate(168.84 319.17) rotate(-272.3)"/>
<rect x="-1.75" y="-1.75" width="3.5" height="3.5" fill="#7fb0ea" transform="translate(175.17 318.79) rotate(-274.6)"/>
<rect x="-1.75" y="-1.75" width="3.5" height="3.5" fill="#7fb0ea" transform="translate(181.47 318.15) rotate(-276.9)"/>
<rect x="-1.75" y="-1.75" width="3.5" height="3.5" fill="#7fb0ea" transform="translate(187.75 317.26) rotate(-279.2)"/>
<rect x="-1.75" y="-1.75" width="3.5" height="3.5" fill="#7fb0ea" transform="translate(193.98 316.12) rotate(-281.5)"/>
<rect x="-1.75" y="-1.75" width="3.5" height="3.5" fill="#7fb0ea" transform="translate(200.17 314.73) rotate(-283.8)"/>
<rect x="-1.75" y="-1.75" width="3.5" height="3.5" fill="#7fb0ea" transform="translate(206.29 313.09) rotate(-286.2)"/>
<rect x="-1.75" y="-1.75" width="3.5" height="3.5" fill="#7fb0ea" transform="translate(212.34 311.20) rotate(-288.5)"/>
<rect x="-1.75" y="-1.75" width="3.5" height="3.5" fill="#7fb0ea" transform="translate(218.31 309.07) rotate(-290.8)"/>
<rect x="-1.75" y="-1.75" width="3.5" height="3.5" fill="#7fb0ea" transform="translate(224.20 306.70) rotate(-293.1)"/>
<rect x="-1.75" y="-1.75" width="3.5" height="3.5" fill="#7fb0ea" transform="translate(229.98 304.10) rotate(-295.4)"/>
<rect x="-1.75" y="-1.75" width="3.5" height="3.5" fill="#7fb0ea" transform="translate(235.65 301.27) rotate(-297.7)"/>
<rect x="-1.75" y="-1.75" width="3.5" height="3.5" fill="#7fb0ea" transform="translate(241.20 298.21) rotate(-300.0)"/>
<rect x="-1.75" y="-1.75" width="3.5" height="3.5" fill="#7fb0ea" transform="translate(246.62 294.93) rotate(-302.3)"/>
<rect x="-1.75" y="-1.75" width="3.5" height="3.5" fill="#2b35cc" transform="translate(251.91 291.44) rotate(-304.6)"/>
<rect x="-1.75" y="-1.75" width="3.5" height="3.5" fill="#2b35cc" transform="translate(257.06 287.73) rotate(-306.9)"/>
<rect x="-1.75" y="-1.75" width="3.5" height="3.5" fill="#2b35cc" transform="translate(262.05 283.82) rotate(-309.2)"/>
<rect x="-1.75" y="-1.75" width="3.5" height="3.5" fill="#7fb0ea" transform="translate(266.88 279.72) rotate(-311.5)"/>
<rect x="-1.75" y="-1.75" width="3.5" height="3.5" fill="#7fb0ea" transform="translate(271.53 275.42) rotate(-313.8)"/>
<rect x="-1.75" y="-1.75" width="3.5" height="3.5" fill="#2b35cc" transform="translate(276.02 270.93) rotate(-316.2)"/>
<rect x="-1.75" y="-1.75" width="3.5" height="3.5" fill="#2b35cc" transform="translate(280.32 266.28) rotate(-318.5)"/>
<rect x="-1.75" y="-1.75" width="3.5" height="3.5" fill="#7fb0ea" transform="translate(284.42 261.45) rotate(-320.8)"/>
<rect x="-1.75" y="-1.75" width="3.5" height="3.5" fill="#7fb0ea" transform="translate(288.33 256.46) rotate(-323.1)"/>
<rect x="-1.75" y="-1.75" width="3.5" height="3.5" fill="#7fb0ea" transform="translate(292.04 251.31) rotate(-325.4)"/>
<rect x="-1.75" y="-1.75" width="3.5" height="3.5" fill="#7fb0ea" transform="translate(295.53 246.02) rotate(-327.7)"/>
<rect x="-1.75" y="-1.75" width="3.5" height="3.5" fill="#7fb0ea" transform="translate(298.81 240.60) rotate(-330.0)"/>
<rect x="-1.75" y="-1.75" width="3.5" height="3.5" fill="#7fb0ea" transform="translate(301.87 235.05) rotate(-332.3)"/>
<rect x="-1.75" y="-1.75" width="3.5" height="3.5" fill="#7fb0ea" transform="translate(304.70 229.38) rotate(-334.6)"/>
<rect x="-1.75" y="-1.75" width="3.5" height="3.5" fill="#7fb0ea" transform="translate(307.30 223.60) rotate(-336.9)"/>
<rect x="-1.75" y="-1.75" width="3.5" height="3.5" fill="#2b35cc" transform="translate(309.67 217.71) rotate(-339.2)"/>
<rect x="-1.75" y="-1.75" width="3.5" height="3.5" fill="#2b35cc" transform="translate(311.80 211.74) rotate(-341.5)"/>
<rect x="-1.75" y="-1.75" width="3.5" height="3.5" fill="#7fb0ea" transform="translate(313.69 205.69) rotate(-343.8)"/>
<rect x="-1.75" y="-1.75" width="3.5" height="3.5" fill="#7fb0ea" transform="translate(315.33 199.57) rotate(-346.2)"/>
<rect x="-1.75" y="-1.75" width="3.5" height="3.5" fill="#7fb0ea" transform="translate(316.72 193.38) rotate(-348.5)"/>
<rect x="-1.75" y="-1.75" width="3.5" height="3.5" fill="#2b35cc" transform="translate(317.86 187.15) rotate(-350.8)"/>
<rect x="-1.75" y="-1.75" width="3.5" height="3.5" fill="#7fb0ea" transform="translate(318.75 180.87) rotate(-353.1)"/>
<rect x="-1.75" y="-1.75" width="3.5" height="3.5" fill="#7fb0ea" transform="translate(319.39 174.57) rotate(-355.4)"/>
<rect x="-1.75" y="-1.75" width="3.5" height="3.5" fill="#7fb0ea" transform="translate(319.77 168.24) rotate(-357.7)"/>
<rect x="-1.75" y="-1.75" width="3.5" height="3.5" fill="#f5a01e" transform="translate(273.10 161.90) rotate(0.0)"/>
<rect x="-1.75" y="-1.75" width="3.5" height="3.5" fill="#f5a01e" transform="translate(273.01 157.45) rotate(-2.3)"/>
<rect x="-1.75" y="-1.75" width="3.5" height="3.5" fill="#fb7d6f" transform="translate(272.74 153.00) rotate(-4.6)"/>
<rect x="-1.75" y="-1.75" width="3.5" height="3.5" fill="#f5a01e" transform="translate(272.29 148.57) rotate(-6.9)"/>
<rect x="-1.75" y="-1.75" width="3.5" height="3.5" fill="#d59fdc" transform="translate(271.67 144.16) rotate(-9.2)"/>
<rect x="-1.75" y="-1.75" width="3.5" height="3.5" fill="#d59fdc" transform="translate(270.86 139.78) rotate(-11.5)"/>
<rect x="-1.75" y="-1.75" width="3.5" height="3.5" fill="#d59fdc" transform="translate(269.89 135.43) rotate(-13.8)"/>
<rect x="-1.75" y="-1.75" width="3.5" height="3.5" fill="#d59fdc" transform="translate(268.73 131.13) rotate(-16.2)"/>
<rect x="-1.75" y="-1.75" width="3.5" height="3.5" fill="#d59fdc" transform="translate(267.41 126.88) rotate(-18.5)"/>
<rect x="-1.75" y="-1.75" width="3.5" height="3.5" fill="#d59fdc" transform="translate(265.91 122.68) rotate(-20.8)"/>
<rect x="-1.75" y="-1.75" width="3.5" height="3.5" fill="#6fa5d4" transform="translate(264.25 118.55) rotate(-23.1)"/>
<rect x="-1.75" y="-1.75" width="3.5" height="3.5" fill="#f5a01e" transform="translate(262.42 114.49) rotate(-25.4)"/>
<rect x="-1.75" y="-1.75" width="3.5" height="3.5" fill="#f5a01e" transform="translate(260.43 110.50) rotate(-27.7)"/>
<rect x="-1.75" y="-1.75" width="3.5" height="3.5" fill="#f5a01e" transform="translate(258.28 106.60) rotate(-30.0)"/>
<rect x="-1.75" y="-1.75" width="3.5" height="3.5" fill="#f5a01e" transform="translate(255.98 102.79) rotate(-32.3)"/>
<rect x="-1.75" y="-1.75" width="3.5" height="3.5" fill="#f5a01e" transform="translate(253.52 99.07) rotate(-34.6)"/>
<rect x="-1.75" y="-1.75" width="3.5" height="3.5" fill="#f5a01e" transform="translate(250.92 95.46) rotate(-36.9)"/>
<rect x="-1.75" y="-1.75" width="3.5" height="3.5" fill="#f5a01e" transform="translate(248.17 91.95) rotate(-39.2)"/>
<rect x="-1.75" y="-1.75" width="3.5" height="3.5" fill="#f5a01e" transform="translate(245.29 88.56) rotate(-41.5)"/>
<rect x="-1.75" y="-1.75" width="3.5" height="3.5" fill="#f5a01e" transform="translate(242.26 85.28) rotate(-43.8)"/>
<rect x="-1.75" y="-1.75" width="3.5" height="3.5" fill="#f5a01e" transform="translate(239.12 82.14) rotate(-46.2)"/>
<rect x="-1.75" y="-1.75" width="3.5" height="3.5" fill="#f5a01e" transform="translate(235.84 79.11) rotate(-48.5)"/>
<rect x="-1.75" y="-1.75" width="3.5" height="3.5" fill="#f5a01e" transform="translate(232.45 76.23) rotate(-50.8)"/>
<rect x="-1.75" y="-1.75" width="3.5" height="3.5" fill="#f5a01e" transform="translate(228.94 73.48) rotate(-53.1)"/>
<rect x="-1.75" y="-1.75" width="3.5" height="3.5" fill="#d59fdc" transform="translate(225.33 70.88) rotate(-55.4)"/>
<rect x="-1.75" y="-1.75" width="3.5" height="3.5" fill="#f5a01e" transform="translate(221.61 68.42) rotate(-57.7)"/>
<rect x="-1.75" y="-1.75" width="3.5" height="3.5" fill="#f5a01e" transform="translate(217.80 66.12) rotate(-60.0)"/>
<rect x="-1.75" y="-1.75" width="3.5" height="3.5" fill="#f5a01e" transform="translate(213.90 63.97) rotate(-62.3)"/>
<rect x="-1.75" y="-1.75" width="3.5" height="3.5" fill="#f5a01e" transform="translate(209.91 61.98) rotate(-64.6)"/>
<rect x="-1.75" y="-1.75" width="3.5" height="3.5" fill="#f5a01e" transform="translate(205.85 60.15) rotate(-66.9)"/>
<rect x="-1.75" y="-1.75" width="3.5" height="3.5" fill="#f5a01e" transform="translate(201.72 58.49) rotate(-69.2)"/>
<rect x="-1.75" y="-1.75" width="3.5" height="3.5" fill="#f5a01e" transform="translate(197.52 56.99) rotate(-71.5)"/>
<rect x="-1.75" y="-1.75" width="3.5" height="3.5" fill="#f5a01e" transform="translate(193.27 55.67) rotate(-73.8)"/>
<rect x="-1.75" y="-1.75" width="3.5" height="3.5" fill="#f5a01e" transform="translate(188.97 54.51) rotate(-76.2)"/>
<rect x="-1.75" y="-1.75" width="3.5" height="3.5" fill="#f5a01e" transform="translate(184.62 53.54) rotate(-78.5)"/>
<rect x="-1.75" y="-1.75" width="3.5" height="3.5" fill="#f5a01e" transform="translate(180.24 52.73) rotate(-80.8)"/>
<rect x="-1.75" y="-1.75" width="3.5" height="3.5" fill="#f5a01e" transform="translate(175.83 52.11) rotate(-83.1)"/>
<rect x="-1.75" y="-1.75" width="3.5" height="3.5" fill="#f5a01e" transform="translate(171.40 51.66) rotate(-85.4)"/>
<rect x="-1.75" y="-1.75" width="3.5" height="3.5" fill="#f5a01e" transform="translate(166.95 51.39) rotate(-87.7)"/>
<rect x="-1.75" y="-1.75" width="3.5" height="3.5" fill="#f5a01e" transform="translate(162.50 51.30) rotate(-90.0)"/>
<rect x="-1.75" y="-1.75" width="3.5" height="3.5" fill="#f5a01e" transform="translate(158.05 51.39) rotate(-92.3)"/>
<rect x="-1.75" y="-1.75" width="3.5" height="3.5" fill="#f5a01e" transform="translate(153.60 51.66) rotate(-94.6)"/>
<rect x="-1.75" y="-1.75" width="3.5" height="3.5" fill="#f5a01e" transform="translate(149.17 52.11) rotate(-96.9)"/>
<rect x="-1.75" y="-1.75" width="3.5" height="3.5" fill="#f5a01e" transform="translate(144.76 52.73) rotate(-99.2)"/>
<rect x="-1.75" y="-1.75" width="3.5" height="3.5" fill="#f5a01e" transform="translate(140.38 53.54) rotate(-101.5)"/>
<rect x="-1.75" y="-1.75" width="3.5" height="3.5" fill="#f5a01e" transform="translate(136.03 54.51) rotate(-103.8)"/>
<rect x="-1.75" y="-1.75" width="3.5" height="3.5" fill="#f5a01e" transform="translate(131.73 55.67) rotate(-106.2)"/>
<rect x="-1.75" y="-1.75" width="3.5" height="3.5" fill="#f5a01e" transform="translate(127.48 56.99) rotate(-108.5)"/>
<rect x="-1.75" y="-1.75" width="3.5" height="3.5" fill="#f5a01e" transform="translate(123.28 58.49) rotate(-110.8)"/>
<rect x="-1.75" y="-1.75" width="3.5" height="3.5" fill="#f5a01e" transform="translate(119.15 60.15) rotate(-113.1)"/>
<rect x="-1.75" y="-1.75" width="3.5" height="3.5" fill="#f5a01e" transform="translate(115.09 61.98) rotate(-115.4)"/>
<rect x="-1.75" y="-1.75" width="3.5" height="3.5" fill="#f5a01e" transform="translate(111.10 63.97) rotate(-117.7)"/>
<rect x="-1.75" y="-1.75" width="3.5" height="3.5" fill="#f5a01e" transform="translate(107.20 66.12) rotate(-120.0)"/>
<rect x="-1.75" y="-1.75" width="3.5" height="3.5" fill="#f5a01e" transform="translate(103.39 68.42) rotate(-122.3)"/>
<rect x="-1.75" y="-1.75" width="3.5" height="3.5" fill="#f5a01e" transform="translate(99.67 70.88) rotate(-124.6)"/>
<rect x="-1.75" y="-1.75" width="3.5" height="3.5" fill="#f5a01e" transform="translate(96.06 73.48) rotate(-126.9)"/>
<rect x="-1.75" y="-1.75" width="3.5" height="3.5" fill="#f5a01e" transform="translate(92.55 76.23) rotate(-129.2)"/>
<rect x="-1.75" y="-1.75" width="3.5" height="3.5" fill="#f5a01e" transform="translate(89.16 79.11) rotate(-131.5)"/>
<rect x="-1.75" y="-1.75" width="3.5" height="3.5" fill="#f5a01e" transform="translate(85.88 82.14) rotate(-133.8)"/>
<rect x="-1.75" y="-1.75" width="3.5" height="3.5" fill="#f5a01e" transform="translate(82.74 85.28) rotate(-136.2)"/>
<rect x="-1.75" y="-1.75" width="3.5" height="3.5" fill="#f5a01e" transform="translate(79.71 88.56) rotate(-138.5)"/>
<rect x="-1.75" y="-1.75" width="3.5" height="3.5" fill="#f5a01e" transform="translate(76.83 91.95) rotate(-140.8)"/>
<rect x="-1.75" y="-1.75" width="3.5" height="3.5" fill="#f5a01e" transform="translate(74.08 95.46) rotate(-143.1)"/>
<rect x="-1.75" y="-1.75" width="3.5" height="3.5" fill="#f5a01e" transform="translate(71.48 99.07) rotate(-145.4)"/>
<rect x="-1.75" y="-1.75" width="3.5" height="3.5" fill="#f5a01e" transform="translate(69.02 102.79) rotate(-147.7)"/>
<rect x="-1.75" y="-1.75" width="3.5" height="3.5" fill="#f5a01e" transform="translate(66.72 106.60) rotate(-150.0)"/>
<rect x="-1.75" y="-1.75" width="3.5" height="3.5" fill="#f5a01e" transform="translate(64.57 110.50) rotate(-152.3)"/>
<rect x="-1.75" y="-1.75" width="3.5" height="3.5" fill="#f5a01e" transform="translate(62.58 114.49) rotate(-154.6)"/>
<rect x="-1.75" y="-1.75" width="3.5" height="3.5" fill="#f5a01e" transform="translate(60.75 118.55) rotate(-156.9)"/>
<rect x="-1.75" y="-1.75" width="3.5" height="3.5" fill="#f5a01e" transform="translate(59.09 122.68) rotate(-159.2)"/>
<rect x="-1.75" y="-1.75" width="3.5" height="3.5" fill="#f5a01e" transform="translate(57.59 126.88) rotate(-161.5)"/>
<rect x="-1.75" y="-1.75" width="3.5" height="3.5" fill="#f5a01e" transform="translate(56.27 131.13) rotate(-163.8)"/>
<rect x="-1.75" y="-1.75" width="3.5" height="3.5" fill="#f5a01e" transform="translate(55.11 135.43) rotate(-166.2)"/>
<rect x="-1.75" y="-1.75" width="3.5" height="3.5" fill="#f5a01e" transform="translate(54.14 139.78) rotate(-168.5)"/>
<rect x="-1.75" y="-1.75" width="3.5" height="3.5" fill="#f5a01e" transform="translate(53.33 144.16) rotate(-170.8)"/>
<rect x="-1.75" y="-1.75" width="3.5" height="3.5" fill="#f5a01e" transform="translate(52.71 148.57) rotate(-173.1)"/>
<rect x="-1.75" y="-1.75" width="3.5" height="3.5" fill="#f5a01e" transform="translate(52.26 153.00) rotate(-175.4)"/>
<rect x="-1.75" y="-1.75" width="3.5" height="3.5" fill="#f5a01e" transform="translate(51.99 157.45) rotate(-177.7)"/>
<rect x="-1.75" y="-1.75" width="3.5" height="3.5" fill="#f5a01e" transform="translate(51.90 161.90) rotate(-180.0)"/>
<rect x="-1.75" y="-1.75" width="3.5" height="3.5" fill="#f5a01e" transform="translate(51.99 166.35) rotate(-182.3)"/>
<rect x="-1.75" y="-1.75" width="3.5" height="3.5" fill="#f5a01e" transform="translate(52.26 170.80) rotate(-184.6)"/>
<rect x="-1.75" y="-1.75" width="3.5" height="3.5" fill="#f5a01e" transform="translate(52.71 175.23) rotate(-186.9)"/>
<rect x="-1.75" y="-1.75" width="3.5" height="3.5" fill="#f5a01e" transform="translate(53.33 179.64) rotate(-189.2)"/>
<rect x="-1.75" y="-1.75" width="3.5" height="3.5" fill="#fb7d6f" transform="translate(54.14 184.02) rotate(-191.5)"/>
<rect x="-1.75" y="-1.75" width="3.5" height="3.5" fill="#fb7d6f" transform="translate(55.11 188.37) rotate(-193.8)"/>
<rect x="-1.75" y="-1.75" width="3.5" height="3.5" fill="#fb7d6f" transform="translate(56.27 192.67) rotate(-196.2)"/>
<rect x="-1.75" y="-1.75" width="3.5" height="3.5" fill="#fb7d6f" transform="translate(57.59 196.92) rotate(-198.5)"/>
<rect x="-1.75" y="-1.75" width="3.5" height="3.5" fill="#fb7d6f" transform="translate(59.09 201.12) rotate(-200.8)"/>
<rect x="-1.75" y="-1.75" width="3.5" height="3.5" fill="#fb7d6f" transform="translate(60.75 205.25) rotate(-203.1)"/>
<rect x="-1.75" y="-1.75" width="3.5" height="3.5" fill="#fb7d6f" transform="translate(62.58 209.31) rotate(-205.4)"/>
<rect x="-1.75" y="-1.75" width="3.5" height="3.5" fill="#fb7d6f" transform="translate(64.57 213.30) rotate(-207.7)"/>
<rect x="-1.75" y="-1.75" width="3.5" height="3.5" fill="#fb7d6f" transform="translate(66.72 217.20) rotate(-210.0)"/>
<rect x="-1.75" y="-1.75" width="3.5" height="3.5" fill="#fb7d6f" transform="translate(69.02 221.01) rotate(-212.3)"/>
<rect x="-1.75" y="-1.75" width="3.5" height="3.5" fill="#fb7d6f" transform="translate(71.48 224.73) rotate(-214.6)"/>
<rect x="-1.75" y="-1.75" width="3.5" height="3.5" fill="#fb7d6f" transform="translate(74.08 228.34) rotate(-216.9)"/>
<rect x="-1.75" y="-1.75" width="3.5" height="3.5" fill="#fb7d6f" transform="translate(76.83 231.85) rotate(-219.2)"/>
<rect x="-1.75" y="-1.75" width="3.5" height="3.5" fill="#fb7d6f" transform="translate(79.71 235.24) rotate(-221.5)"/>
<rect x="-1.75" y="-1.75" width="3.5" height="3.5" fill="#fb7d6f" transform="translate(82.74 238.52) rotate(-223.8)"/>
<rect x="-1.75" y="-1.75" width="3.5" height="3.5" fill="#fb7d6f" transform="translate(85.88 241.66) rotate(-226.2)"/>
<rect x="-1.75" y="-1.75" width="3.5" height="3.5" fill="#fb7d6f" transform="translate(89.16 244.69) rotate(-228.5)"/>
<rect x="-1.75" y="-1.75" width="3.5" height="3.5" fill="#fb7d6f" transform="translate(92.55 247.57) rotate(-230.8)"/>
<rect x="-1.75" y="-1.75" width="3.5" height="3.5" fill="#fb7d6f" transform="translate(96.06 250.32) rotate(-233.1)"/>
<rect x="-1.75" y="-1.75" width="3.5" height="3.5" fill="#fb7d6f" transform="translate(99.67 252.92) rotate(-235.4)"/>
<rect x="-1.75" y="-1.75" width="3.5" height="3.5" fill="#fb7d6f" transform="translate(103.39 255.38) rotate(-237.7)"/>
<rect x="-1.75" y="-1.75" width="3.5" height="3.5" fill="#fb7d6f" transform="translate(107.20 257.68) rotate(-240.0)"/>
<rect x="-1.75" y="-1.75" width="3.5" height="3.5" fill="#fb7d6f" transform="translate(111.10 259.83) rotate(-242.3)"/>
<rect x="-1.75" y="-1.75" width="3.5" height="3.5" fill="#fb7d6f" transform="translate(115.09 261.82) rotate(-244.6)"/>
<rect x="-1.75" y="-1.75" width="3.5" height="3.5" fill="#fb7d6f" transform="translate(119.15 263.65) rotate(-246.9)"/>
<rect x="-1.75" y="-1.75" width="3.5" height="3.5" fill="#fb7d6f" transform="translate(123.28 265.31) rotate(-249.2)"/>
<rect x="-1.75" y="-1.75" width="3.5" height="3.5" fill="#fb7d6f" transform="translate(127.48 266.81) rotate(-251.5)"/>
<rect x="-1.75" y="-1.75" width="3.5" height="3.5" fill="#fb7d6f" transform="translate(131.73 268.13) rotate(-253.8)"/>
<rect x="-1.75" y="-1.75" width="3.5" height="3.5" fill="#fb7d6f" transform="translate(136.03 269.29) rotate(-256.2)"/>
<rect x="-1.75" y="-1.75" width="3.5" height="3.5" fill="#fb7d6f" transform="translate(140.38 270.26) rotate(-258.5)"/>
<rect x="-1.75" y="-1.75" width="3.5" height="3.5" fill="#fb7d6f" transform="translate(144.76 271.07) rotate(-260.8)"/>
<rect x="-1.75" y="-1.75" width="3.5" height="3.5" fill="#fb7d6f" transform="translate(149.17 271.69) rotate(-263.1)"/>
<rect x="-1.75" y="-1.75" width="3.5" height="3.5" fill="#fb7d6f" transform="translate(153.60 272.14) rotate(-265.4)"/>
<rect x="-1.75" y="-1.75" width="3.5" height="3.5" fill="#fb7d6f" transform="translate(158.05 272.41) rotate(-267.7)"/>
<rect x="-1.75" y="-1.75" width="3.5" height="3.5" fill="#fb7d6f" transform="translate(162.50 272.50) rotate(-270.0)"/>
<rect x="-1.75" y="-1.75" width="3.5" height="3.5" fill="#fb7d6f" transform="translate(166.95 272.41) rotate(-272.3)"/>
<rect x="-1.75" y="-1.75" width="3.5" height="3.5" fill="#fb7d6f" transform="translate(171.40 272.14) rotate(-274.6)"/>
<rect x="-1.75" y="-1.75" width="3.5" height="3.5" fill="#fb7d6f" transform="translate(175.83 271.69) rotate(-276.9)"/>
<rect x="-1.75" y="-1.75" width="3.5" height="3.5" fill="#fb7d6f" transform="translate(180.24 271.07) rotate(-279.2)"/>
<rect x="-1.75" y="-1.75" width="3.5" height="3.5" fill="#fb7d6f" transform="translate(184.62 270.26) rotate(-281.5)"/>
<rect x="-1.75" y="-1.75" width="3.5" height="3.5" fill="#fb7d6f" transform="translate(188.97 269.29) rotate(-283.8)"/>
<rect x="-1.75" y="-1.75" width="3.5" height="3.5" fill="#fb7d6f" transform="translate(193.27 268.13) rotate(-286.2)"/>
<rect x="-1.75" y="-1.75" width="3.5" height="3.5" fill="#fb7d6f" transform="translate(197.52 266.81) rotate(-288.5)"/>
<rect x="-1.75" y="-1.75" width="3.5" height="3.5" fill="#fb7d6f" transform="translate(201.72 265.31) rotate(-290.8)"/>
<rect x="-1.75" y="-1.75" width="3.5" height="3.5" fill="#fb7d6f" transform="translate(205.85 263.65) rotate(-293.1)"/>
<rect x="-1.75" y="-1.75" width="3.5" height="3.5" fill="#fb7d6f" transform="translate(209.91 261.82) rotate(-295.4)"/>
<rect x="-1.75" y="-1.75" width="3.5" height="3.5" fill="#fb7d6f" transform="translate(213.90 259.83) rotate(-297.7)"/>
<rect x="-1.75" y="-1.75" width="3.5" height="3.5" fill="#fb7d6f" transform="translate(217.80 257.68) rotate(-300.0)"/>
<rect x="-1.75" y="-1.75" width="3.5" height="3.5" fill="#fb7d6f" transform="translate(221.61 255.38) rotate(-302.3)"/>
<rect x="-1.75" y="-1.75" width="3.5" height="3.5" fill="#fb7d6f" transform="translate(225.33 252.92) rotate(-304.6)"/>
<rect x="-1.75" y="-1.75" width="3.5" height="3.5" fill="#fb7d6f" transform="translate(228.94 250.32) rotate(-306.9)"/>
<rect x="-1.75" y="-1.75" width="3.5" height="3.5" fill="#fb7d6f" transform="translate(232.45 247.57) rotate(-309.2)"/>
<rect x="-1.75" y="-1.75" width="3.5" height="3.5" fill="#fb7d6f" transform="translate(235.84 244.69) rotate(-311.5)"/>
<rect x="-1.75" y="-1.75" width="3.5" height="3.5" fill="#fb7d6f" transform="translate(239.12 241.66) rotate(-313.8)"/>
<rect x="-1.75" y="-1.75" width="3.5" height="3.5" fill="#fb7d6f" transform="translate(242.26 238.52) rotate(-316.2)"/>
<rect x="-1.75" y="-1.75" width="3.5" height="3.5" fill="#fb7d6f" transform="translate(245.29 235.24) rotate(-318.5)"/>
<rect x="-1.75" y="-1.75" width="3.5" height="3.5" fill="#fb7d6f" transform="translate(248.17 231.85) rotate(-320.8)"/>
<rect x="-1.75" y="-1.75" width="3.5" height="3.5" fill="#fb7d6f" transform="translate(250.92 228.34) rotate(-323.1)"/>
<rect x="-1.75" y="-1.75" width="3.5" height="3.5" fill="#fb7d6f" transform="translate(253.52 224.73) rotate(-325.4)"/>
<rect x="-1.75" y="-1.75" width="3.5" height="3.5" fill="#fb7d6f" transform="translate(255.98 221.01) rotate(-327.7)"/>
<rect x="-1.75" y="-1.75" width="3.5" height="3.5" fill="#fb7d6f" transform="translate(258.28 217.20) rotate(-330.0)"/>
<rect x="-1.75" y="-1.75" width="3.5" height="3.5" fill="#fb7d6f" transform="translate(260.43 213.30) rotate(-332.3)"/>
<rect x="-1.75" y="-1.75" width="3.5" height="3.5" fill="#fb7d6f" transform="translate(262.42 209.31) rotate(-334.6)"/>
<rect x="-1.75" y="-1.75" width="3.5" height="3.5" fill="#fb7d6f" transform="translate(264.25 205.25) rotate(-336.9)"/>
<rect x="-1.75" y="-1.75" width="3.5" height="3.5" fill="#fb7d6f" transform="translate(265.91 201.12) rotate(-339.2)"/>
<rect x="-1.75" y="-1.75" width="3.5" height="3.5" fill="#9c9c9c" transform="translate(267.41 196.92) rotate(-341.5)"/>
<rect x="-1.75" y="-1.75" width="3.5" height="3.5" fill="#b5e888" transform="translate(268.73 192.67) rotate(-343.8)"/>
<rect x="-1.75" y="-1.75" width="3.5" height="3.5" fill="#b5e888" transform="translate(269.89 188.37) rotate(-346.2)"/>
<rect x="-1.75" y="-1.75" width="3.5" height="3.5" fill="#b5e888" transform="translate(270.86 184.02) rotate(-348.5)"/>
<rect x="-1.75" y="-1.75" width="3.5" height="3.5" fill="#b5e888" transform="translate(271.67 179.64) rotate(-350.8)"/>
<rect x="-1.75" y="-1.75" width="3.5" height="3.5" fill="#b5e888" transform="translate(272.29 175.23) rotate(-353.1)"/>
<rect x="-1.75" y="-1.75" width="3.5" height="3.5" fill="#b5e888" transform="translate(272.74 170.80) rotate(-355.4)"/>
<rect x="-1.75" y="-1.75" width="3.5" height="3.5" fill="#b5e888" transform="translate(273.01 166.35) rotate(-357.7)"/>
<rect x="-1.75" y="-1.75" width="3.5" height="3.5" fill="#e7b188" transform="translate(150.42 62.43) rotate(-96.9)"/>
<rect x="-1.75" y="-1.75" width="3.5" height="3.5" fill="#e7b188" transform="translate(146.43 63.00) rotate(-99.2)"/>
<rect x="-1.75" y="-1.75" width="3.5" height="3.5" fill="#e7b188" transform="translate(142.46 63.72) rotate(-101.5)"/>
<rect x="-1.75" y="-1.75" width="3.5" height="3.5" fill="#e7b188" transform="translate(123.22 69.72) rotate(-113.1)"/>
<rect x="-1.75" y="-1.75" width="3.5" height="3.5" fill="#e7b188" transform="translate(73.78 115.33) rotate(-152.3)"/>
<rect x="-1.75" y="-1.75" width="3.5" height="3.5" fill="#e7b188" transform="translate(63.03 149.82) rotate(-173.1)"/>
<rect x="-1.75" y="-1.75" width="3.5" height="3.5" fill="#e7b188" transform="translate(62.62 153.84) rotate(-175.4)"/>
<rect x="-1.75" y="-1.75" width="3.5" height="3.5" fill="#e7b188" transform="translate(62.38 157.87) rotate(-177.7)"/>
<rect x="-1.75" y="-1.75" width="3.5" height="3.5" fill="#e7b188" transform="translate(62.30 161.90) rotate(-180.0)"/>
<rect x="-1.75" y="-1.75" width="3.5" height="3.5" fill="#e7b188" transform="translate(62.38 165.93) rotate(-182.3)"/>
<rect x="-1.75" y="-1.75" width="3.5" height="3.5" fill="#e7b188" transform="translate(62.62 169.96) rotate(-184.6)"/>
<rect x="-1.75" y="-1.75" width="3.5" height="3.5" fill="#3d45e8" transform="translate(240.12 98.53) rotate(-39.2)"/>
<rect x="-1.75" y="-1.75" width="3.5" height="3.5" fill="#3d45e8" transform="translate(237.50 95.46) rotate(-41.5)"/>
<rect x="-1.75" y="-1.75" width="3.5" height="3.5" fill="#3d45e8" transform="translate(231.91 89.64) rotate(-46.2)"/>
<rect x="-1.75" y="-1.75" width="3.5" height="3.5" fill="#5b961d" transform="translate(256.19 197.43) rotate(-339.2)"/>
<rect x="-1.75" y="-1.75" width="3.5" height="3.5" fill="#dccb12" transform="translate(253.03 204.85) rotate(-334.6)"/>
<rect x="-1.75" y="-1.75" width="3.5" height="3.5" fill="#dccb12" transform="translate(254.68 201.18) rotate(-336.9)"/>
<rect x="-1.75" y="-1.75" width="3.5" height="3.5" fill="#dccb12" transform="translate(231.91 234.16) rotate(-313.8)"/>
<rect x="-1.75" y="-1.75" width="3.5" height="3.5" fill="#dccb12" transform="translate(234.76 231.31) rotate(-316.2)"/>
<rect x="-1.75" y="-1.75" width="3.5" height="3.5" fill="#dccb12" transform="translate(237.50 228.34) rotate(-318.5)"/>
<rect x="-1.75" y="-1.75" width="3.5" height="3.5" fill="#dccb12" transform="translate(240.12 225.27) rotate(-320.8)"/>
<rect x="-1.75" y="-1.75" width="3.5" height="3.5" fill="#dccb12" transform="translate(242.60 222.09) rotate(-323.1)"/>
<rect x="-1.75" y="-1.75" width="3.5" height="3.5" fill="#dccb12" transform="translate(244.96 218.82) rotate(-325.4)"/>
<rect x="-1.75" y="-1.75" width="3.5" height="3.5" fill="#e69bd9" transform="translate(59.23 182.98) rotate(-191.5)"/>
<rect x="-1.75" y="-1.75" width="3.5" height="3.5" fill="#e69bd9" transform="translate(60.16 187.12) rotate(-193.8)"/>
<rect x="-1.75" y="-1.75" width="3.5" height="3.5" fill="#e69bd9" transform="translate(61.26 191.22) rotate(-196.2)"/>
<rect x="-1.75" y="-1.75" width="3.5" height="3.5" fill="#e69bd9" transform="translate(62.52 195.28) rotate(-198.5)"/>
<rect x="-1.75" y="-1.75" width="3.5" height="3.5" fill="#e69bd9" transform="translate(63.95 199.28) rotate(-200.8)"/>
<rect x="-1.75" y="-1.75" width="3.5" height="3.5" fill="#e69bd9" transform="translate(65.53 203.21) rotate(-203.1)"/>
<rect x="-1.75" y="-1.75" width="3.5" height="3.5" fill="#e69bd9" transform="translate(67.28 207.08) rotate(-205.4)"/>
<rect x="-1.75" y="-1.75" width="3.5" height="3.5" fill="#e69bd9" transform="translate(69.17 210.88) rotate(-207.7)"/>
<rect x="-1.75" y="-1.75" width="3.5" height="3.5" fill="#e69bd9" transform="translate(71.22 214.60) rotate(-210.0)"/>
<rect x="-1.75" y="-1.75" width="3.5" height="3.5" fill="#e69bd9" transform="translate(73.42 218.23) rotate(-212.3)"/>
<rect x="-1.75" y="-1.75" width="3.5" height="3.5" fill="#e69bd9" transform="translate(75.76 221.77) rotate(-214.6)"/>
<rect x="-1.75" y="-1.75" width="3.5" height="3.5" fill="#e69bd9" transform="translate(78.24 225.22) rotate(-216.9)"/>
<rect x="-1.75" y="-1.75" width="3.5" height="3.5" fill="#e69bd9" transform="translate(80.86 228.56) rotate(-219.2)"/>
<rect x="-1.75" y="-1.75" width="3.5" height="3.5" fill="#e69bd9" transform="translate(83.61 231.79) rotate(-221.5)"/>
<rect x="-1.75" y="-1.75" width="3.5" height="3.5" fill="#e69bd9" transform="translate(86.49 234.91) rotate(-223.8)"/>
<rect x="-1.75" y="-1.75" width="3.5" height="3.5" fill="#e69bd9" transform="translate(89.49 237.91) rotate(-226.2)"/>
<rect x="-1.75" y="-1.75" width="3.5" height="3.5" fill="#e69bd9" transform="translate(92.61 240.79) rotate(-228.5)"/>
<rect x="-1.75" y="-1.75" width="3.5" height="3.5" fill="#e69bd9" transform="translate(95.84 243.54) rotate(-230.8)"/>
<rect x="-1.75" y="-1.75" width="3.5" height="3.5" fill="#e69bd9" transform="translate(99.18 246.16) rotate(-233.1)"/>
<rect x="-1.75" y="-1.75" width="3.5" height="3.5" fill="#8fb4e4" transform="translate(102.63 248.64) rotate(-235.4)"/>
<rect x="-1.75" y="-1.75" width="3.5" height="3.5" fill="#8fb4e4" transform="translate(106.17 250.98) rotate(-237.7)"/>
<rect x="-1.75" y="-1.75" width="3.5" height="3.5" fill="#8fb4e4" transform="translate(109.80 253.18) rotate(-240.0)"/>
<rect x="-1.75" y="-1.75" width="3.5" height="3.5" fill="#8fb4e4" transform="translate(113.52 255.23) rotate(-242.3)"/>
<rect x="-1.75" y="-1.75" width="3.5" height="3.5" fill="#8fb4e4" transform="translate(117.32 257.12) rotate(-244.6)"/>
<rect x="-1.75" y="-1.75" width="3.5" height="3.5" fill="#8fb4e4" transform="translate(121.19 258.87) rotate(-246.9)"/>
<rect x="-1.75" y="-1.75" width="3.5" height="3.5" fill="#8fb4e4" transform="translate(125.12 260.45) rotate(-249.2)"/>
<rect x="-1.75" y="-1.75" width="3.5" height="3.5" fill="#8fb4e4" transform="translate(129.12 261.88) rotate(-251.5)"/>
<rect x="-1.75" y="-1.75" width="3.5" height="3.5" fill="#8fb4e4" transform="translate(133.18 263.14) rotate(-253.8)"/>
<rect x="-1.75" y="-1.75" width="3.5" height="3.5" fill="#8fb4e4" transform="translate(137.28 264.24) rotate(-256.2)"/>
<rect x="-1.75" y="-1.75" width="3.5" height="3.5" fill="#8fb4e4" transform="translate(141.42 265.17) rotate(-258.5)"/>
<rect x="-1.75" y="-1.75" width="3.5" height="3.5" fill="#8fb4e4" transform="translate(145.59 265.94) rotate(-260.8)"/>
<rect x="-1.75" y="-1.75" width="3.5" height="3.5" fill="#8fb4e4" transform="translate(149.80 266.53) rotate(-263.1)"/>
<rect x="-1.75" y="-1.75" width="3.5" height="3.5" fill="#8fb4e4" transform="translate(154.02 266.96) rotate(-265.4)"/>
<rect x="-1.75" y="-1.75" width="3.5" height="3.5" fill="#8fb4e4" transform="translate(158.26 267.21) rotate(-267.7)"/>
<rect x="-1.75" y="-1.75" width="3.5" height="3.5" fill="#f6c46f" transform="translate(162.50 267.30) rotate(-270.0)"/>
<rect x="-1.75" y="-1.75" width="3.5" height="3.5" fill="#f6c46f" transform="translate(166.74 267.21) rotate(-272.3)"/>
<rect x="-1.75" y="-1.75" width="3.5" height="3.5" fill="#f6c46f" transform="translate(170.98 266.96) rotate(-274.6)"/>
<rect x="-1.75" y="-1.75" width="3.5" height="3.5" fill="#f6c46f" transform="translate(175.20 266.53) rotate(-276.9)"/>
<rect x="-1.75" y="-1.75" width="3.5" height="3.5" fill="#f6c46f" transform="translate(179.41 265.94) rotate(-279.2)"/>
<rect x="-1.75" y="-1.75" width="3.5" height="3.5" fill="#f6c46f" transform="translate(183.58 265.17) rotate(-281.5)"/>
<rect x="-1.75" y="-1.75" width="3.5" height="3.5" fill="#f6c46f" transform="translate(187.72 264.24) rotate(-283.8)"/>
<rect x="-1.75" y="-1.75" width="3.5" height="3.5" fill="#f6c46f" transform="translate(191.82 263.14) rotate(-286.2)"/>
<rect x="-1.75" y="-1.75" width="3.5" height="3.5" fill="#f6c46f" transform="translate(195.88 261.88) rotate(-288.5)"/>
<rect x="-1.75" y="-1.75" width="3.5" height="3.5" fill="#f6c46f" transform="translate(199.88 260.45) rotate(-290.8)"/>
<rect x="-1.75" y="-1.75" width="3.5" height="3.5" fill="#f6c46f" transform="translate(203.81 258.87) rotate(-293.1)"/>
<rect x="-1.75" y="-1.75" width="3.5" height="3.5" fill="#f6c46f" transform="translate(207.68 257.12) rotate(-295.4)"/>
<rect x="-1.75" y="-1.75" width="3.5" height="3.5" fill="#f6c46f" transform="translate(211.48 255.23) rotate(-297.7)"/>
<rect x="-1.75" y="-1.75" width="3.5" height="3.5" fill="#f6c46f" transform="translate(215.20 253.18) rotate(-300.0)"/>
<rect x="-1.75" y="-1.75" width="3.5" height="3.5" fill="#f6c46f" transform="translate(218.83 250.98) rotate(-302.3)"/>
<rect x="-1.75" y="-1.75" width="3.5" height="3.5" fill="#a2cc7c" transform="translate(222.37 248.64) rotate(-304.6)"/>
<rect x="-1.75" y="-1.75" width="3.5" height="3.5" fill="#a2cc7c" transform="translate(225.82 246.16) rotate(-306.9)"/>
<rect x="-1.75" y="-1.75" width="3.5" height="3.5" fill="#a2cc7c" transform="translate(229.16 243.54) rotate(-309.2)"/>
<rect x="-1.75" y="-1.75" width="3.5" height="3.5" fill="#a2cc7c" transform="translate(232.39 240.79) rotate(-311.5)"/>
<rect x="-1.75" y="-1.75" width="3.5" height="3.5" fill="#a2cc7c" transform="translate(235.51 237.91) rotate(-313.8)"/>
<rect x="-1.75" y="-1.75" width="3.5" height="3.5" fill="#a2cc7c" transform="translate(238.51 234.91) rotate(-316.2)"/>
<rect x="-1.75" y="-1.75" width="3.5" height="3.5" fill="#a2cc7c" transform="translate(241.39 231.79) rotate(-318.5)"/>
<rect x="-1.75" y="-1.75" width="3.5" height="3.5" fill="#a2cc7c" transform="translate(244.14 228.56) rotate(-320.8)"/>
<rect x="-1.75" y="-1.75" width="3.5" height="3.5" fill="#a9e8dd" transform="translate(246.76 225.22) rotate(-323.1)"/>
<rect x="-1.75" y="-1.75" width="3.5" height="3.5" fill="#a9e8dd" transform="translate(249.24 221.77) rotate(-325.4)"/>
<rect x="-1.75" y="-1.75" width="3.5" height="3.5" fill="#a9e8dd" transform="translate(251.58 218.23) rotate(-327.7)"/>
<rect x="-1.75" y="-1.75" width="3.5" height="3.5" fill="#a9e8dd" transform="translate(253.78 214.60) rotate(-330.0)"/>
<rect x="-1.75" y="-1.75" width="3.5" height="3.5" fill="#a9e8dd" transform="translate(255.83 210.88) rotate(-332.3)"/>
<rect x="-1.75" y="-1.75" width="3.5" height="3.5" fill="#a9e8dd" transform="translate(257.72 207.08) rotate(-334.6)"/>
<rect x="-1.75" y="-1.75" width="3.5" height="3.5" fill="#a9e8dd" transform="translate(259.47 203.21) rotate(-336.9)"/>
<rect x="-1.75" y="-1.75" width="3.5" height="3.5" fill="#43dcb6" transform="translate(275.86 138.76) rotate(-11.5)"/>
<rect x="-1.75" y="-1.75" width="3.5" height="3.5" fill="#43dcb6" transform="translate(272.25 125.26) rotate(-18.5)"/>
<rect x="-1.75" y="-1.75" width="3.5" height="3.5" fill="#43dcb6" transform="translate(270.68 120.87) rotate(-20.8)"/>
<rect x="-1.75" y="-1.75" width="3.5" height="3.5" fill="#43dcb6" transform="translate(268.94 116.55) rotate(-23.1)"/>
<rect x="-1.75" y="-1.75" width="3.5" height="3.5" fill="#43dcb6" transform="translate(267.03 112.30) rotate(-25.4)"/>
<rect x="-1.75" y="-1.75" width="3.5" height="3.5" fill="#43dcb6" transform="translate(148.55 47.04) rotate(-96.9)"/>
<rect x="-1.75" y="-1.75" width="3.5" height="3.5" fill="#43dcb6" transform="translate(143.94 47.70) rotate(-99.2)"/>
<rect x="-1.75" y="-1.75" width="3.5" height="3.5" fill="#43dcb6" transform="translate(47.18 152.59) rotate(-175.4)"/>
<rect x="-1.75" y="-1.75" width="3.5" height="3.5" fill="#43dcb6" transform="translate(46.89 157.24) rotate(-177.7)"/>
<rect x="-1.75" y="-1.75" width="3.5" height="3.5" fill="#43dcb6" transform="translate(46.80 161.90) rotate(-180.0)"/>
<rect x="-1.75" y="-1.75" width="3.5" height="3.5" fill="#43dcb6" transform="translate(46.89 166.56) rotate(-182.3)"/>
<rect x="-1.75" y="-1.75" width="3.5" height="3.5" fill="#43dcb6" transform="translate(47.18 171.21) rotate(-184.6)"/>
<rect x="-1.75" y="-1.75" width="3.5" height="3.5" fill="#43dcb6" transform="translate(49.14 185.04) rotate(-191.5)"/>
<rect x="-1.75" y="-1.75" width="3.5" height="3.5" fill="#43dcb6" transform="translate(50.16 189.59) rotate(-193.8)"/>
<rect x="-1.75" y="-1.75" width="3.5" height="3.5" fill="#43dcb6" transform="translate(51.37 194.09) rotate(-196.2)"/>
<rect x="-1.75" y="-1.75" width="3.5" height="3.5" fill="#43dcb6" transform="translate(52.75 198.54) rotate(-198.5)"/>
<rect x="-1.75" y="-1.75" width="3.5" height="3.5" fill="#43dcb6" transform="translate(54.32 202.93) rotate(-200.8)"/>
<rect x="-1.75" y="-1.75" width="3.5" height="3.5" fill="#43dcb6" transform="translate(56.06 207.25) rotate(-203.1)"/>
<rect x="-1.75" y="-1.75" width="3.5" height="3.5" fill="#43dcb6" transform="translate(57.97 211.50) rotate(-205.4)"/>
<rect x="-1.75" y="-1.75" width="3.5" height="3.5" fill="#43dcb6" transform="translate(60.05 215.67) rotate(-207.7)"/>
<rect x="-1.75" y="-1.75" width="3.5" height="3.5" fill="#43dcb6" transform="translate(62.30 219.75) rotate(-210.0)"/>
<rect x="-1.75" y="-1.75" width="3.5" height="3.5" fill="#43dcb6" transform="translate(64.71 223.74) rotate(-212.3)"/>
<rect x="-1.75" y="-1.75" width="3.5" height="3.5" fill="#43dcb6" transform="translate(67.28 227.63) rotate(-214.6)"/>
<rect x="-1.75" y="-1.75" width="3.5" height="3.5" fill="#43dcb6" transform="translate(70.00 231.41) rotate(-216.9)"/>
<rect x="-1.75" y="-1.75" width="3.5" height="3.5" fill="#43dcb6" transform="translate(72.88 235.07) rotate(-219.2)"/>
<rect x="-1.75" y="-1.75" width="3.5" height="3.5" fill="#43dcb6" transform="translate(75.90 238.62) rotate(-221.5)"/>
<rect x="-1.75" y="-1.75" width="3.5" height="3.5" fill="#43dcb6" transform="translate(79.06 242.05) rotate(-223.8)"/>
<rect x="-1.75" y="-1.75" width="3.5" height="3.5" fill="#43dcb6" transform="translate(82.35 245.34) rotate(-226.2)"/>
<rect x="-1.75" y="-1.75" width="3.5" height="3.5" fill="#43dcb6" transform="translate(85.78 248.50) rotate(-228.5)"/>
<rect x="-1.75" y="-1.75" width="3.5" height="3.5" fill="#43dcb6" transform="translate(89.33 251.52) rotate(-230.8)"/>
<rect x="-1.75" y="-1.75" width="3.5" height="3.5" fill="#43dcb6" transform="translate(92.99 254.40) rotate(-233.1)"/>
<rect x="-1.75" y="-1.75" width="3.5" height="3.5" fill="#43dcb6" transform="translate(274.84 189.59) rotate(-346.2)"/>
<rect x="-1.75" y="-1.75" width="3.5" height="3.5" fill="#43dcb6" transform="translate(275.86 185.04) rotate(-348.5)"/>
<rect x="-1.75" y="-1.75" width="3.5" height="3.5" fill="#43dcb6" transform="translate(277.36 175.85) rotate(-353.1)"/>
<rect x="-1.75" y="-1.75" width="3.5" height="3.5" fill="#43dcb6" transform="translate(277.82 171.21) rotate(-355.4)"/>
<rect x="-1.75" y="-1.75" width="3.5" height="3.5" fill="#c514ea" transform="translate(278.72 195.56) rotate(-343.8)"/>
<rect x="-1.75" y="-1.75" width="3.5" height="3.5" fill="#ee9fe6" transform="translate(284.84 131.75) rotate(-13.8)"/>
<rect x="-1.75" y="-1.75" width="3.5" height="3.5" fill="#ee9fe6" transform="translate(283.53 126.84) rotate(-16.2)"/>
<rect x="-1.75" y="-1.75" width="3.5" height="3.5" fill="#ee9fe6" transform="translate(282.02 122.00) rotate(-18.5)"/>
<rect x="-1.75" y="-1.75" width="3.5" height="3.5" fill="#ee9fe6" transform="translate(280.31 117.22) rotate(-20.8)"/>
<rect x="-1.75" y="-1.75" width="3.5" height="3.5" fill="#ee9fe6" transform="translate(278.42 112.51) rotate(-23.1)"/>
<rect x="-1.75" y="-1.75" width="3.5" height="3.5" fill="#ee9fe6" transform="translate(276.33 107.88) rotate(-25.4)"/>
<rect x="-1.75" y="-1.75" width="3.5" height="3.5" fill="#ee9fe6" transform="translate(147.31 36.82) rotate(-96.9)"/>
<rect x="-1.75" y="-1.75" width="3.5" height="3.5" fill="#ee9fe6" transform="translate(142.29 37.53) rotate(-99.2)"/>
<rect x="-1.75" y="-1.75" width="3.5" height="3.5" fill="#ee9fe6" transform="translate(39.05 136.70) rotate(-168.5)"/>
<rect x="-1.75" y="-1.75" width="3.5" height="3.5" fill="#ee9fe6" transform="translate(38.13 141.69) rotate(-170.8)"/>
<rect x="-1.75" y="-1.75" width="3.5" height="3.5" fill="#ee9fe6" transform="translate(37.42 146.71) rotate(-173.1)"/>
<rect x="-1.75" y="-1.75" width="3.5" height="3.5" fill="#ee9fe6" transform="translate(36.91 151.76) rotate(-175.4)"/>
<rect x="-1.75" y="-1.75" width="3.5" height="3.5" fill="#ee9fe6" transform="translate(36.60 156.83) rotate(-177.7)"/>
<rect x="-1.75" y="-1.75" width="3.5" height="3.5" fill="#ee9fe6" transform="translate(36.50 161.90) rotate(-180.0)"/>
<rect x="-1.75" y="-1.75" width="3.5" height="3.5" fill="#ee9fe6" transform="translate(36.60 166.97) rotate(-182.3)"/>
<rect x="-1.75" y="-1.75" width="3.5" height="3.5" fill="#ee9fe6" transform="translate(36.91 172.04) rotate(-184.6)"/>
<rect x="-1.75" y="-1.75" width="3.5" height="3.5" fill="#ee9fe6" transform="translate(39.05 187.10) rotate(-191.5)"/>
<rect x="-1.75" y="-1.75" width="3.5" height="3.5" fill="#ee9fe6" transform="translate(40.16 192.05) rotate(-193.8)"/>
<rect x="-1.75" y="-1.75" width="3.5" height="3.5" fill="#ee9fe6" transform="translate(41.47 196.96) rotate(-196.2)"/>
<rect x="-1.75" y="-1.75" width="3.5" height="3.5" fill="#ee9fe6" transform="translate(42.98 201.80) rotate(-198.5)"/>
<rect x="-1.75" y="-1.75" width="3.5" height="3.5" fill="#ee9fe6" transform="translate(44.69 206.58) rotate(-200.8)"/>
<rect x="-1.75" y="-1.75" width="3.5" height="3.5" fill="#ee9fe6" transform="translate(46.58 211.29) rotate(-203.1)"/>
<rect x="-1.75" y="-1.75" width="3.5" height="3.5" fill="#ee9fe6" transform="translate(48.67 215.92) rotate(-205.4)"/>
<rect x="-1.75" y="-1.75" width="3.5" height="3.5" fill="#ee9fe6" transform="translate(50.93 220.46) rotate(-207.7)"/>
<rect x="-1.75" y="-1.75" width="3.5" height="3.5" fill="#ee9fe6" transform="translate(53.38 224.90) rotate(-210.0)"/>
<rect x="-1.75" y="-1.75" width="3.5" height="3.5" fill="#ee9fe6" transform="translate(56.01 229.24) rotate(-212.3)"/>
<rect x="-1.75" y="-1.75" width="3.5" height="3.5" fill="#ee9fe6" transform="translate(58.80 233.48) rotate(-214.6)"/>
<rect x="-1.75" y="-1.75" width="3.5" height="3.5" fill="#ee9fe6" transform="translate(61.77 237.59) rotate(-216.9)"/>
<rect x="-1.75" y="-1.75" width="3.5" height="3.5" fill="#ee9fe6" transform="translate(64.90 241.59) rotate(-219.2)"/>
<rect x="-1.75" y="-1.75" width="3.5" height="3.5" fill="#ee9fe6" transform="translate(68.19 245.45) rotate(-221.5)"/>
<rect x="-1.75" y="-1.75" width="3.5" height="3.5" fill="#ee9fe6" transform="translate(71.63 249.18) rotate(-223.8)"/>
<rect x="-1.75" y="-1.75" width="3.5" height="3.5" fill="#ee9fe6" transform="translate(75.22 252.77) rotate(-226.2)"/>
<rect x="-1.75" y="-1.75" width="3.5" height="3.5" fill="#ee9fe6" transform="translate(78.95 256.21) rotate(-228.5)"/>
<rect x="-1.75" y="-1.75" width="3.5" height="3.5" fill="#ee9fe6" transform="translate(82.81 259.50) rotate(-230.8)"/>
<rect x="-1.75" y="-1.75" width="3.5" height="3.5" fill="#ee9fe6" transform="translate(86.81 262.63) rotate(-233.1)"/>
<rect x="-1.75" y="-1.75" width="3.5" height="3.5" fill="#ee9fe6" transform="translate(253.37 249.18) rotate(-316.2)"/>
<rect x="-1.75" y="-1.75" width="3.5" height="3.5" fill="#ee9fe6" transform="translate(256.81 245.45) rotate(-318.5)"/>
<rect x="-1.75" y="-1.75" width="3.5" height="3.5" fill="#ee9fe6" transform="translate(284.84 192.05) rotate(-346.2)"/>
<rect x="-1.75" y="-1.75" width="3.5" height="3.5" fill="#ee9fe6" transform="translate(285.95 187.10) rotate(-348.5)"/>
<rect x="-1.75" y="-1.75" width="3.5" height="3.5" fill="#ee9fe6" transform="translate(287.58 177.09) rotate(-353.1)"/>
<rect x="-1.75" y="-1.75" width="3.5" height="3.5" fill="#ee9fe6" transform="translate(288.09 172.04) rotate(-355.4)"/>
<rect x="-1.75" y="-1.75" width="3.5" height="3.5" fill="#f5a01e" transform="translate(291.05 135.66) rotate(-11.5)"/>
<rect x="-1.75" y="-1.75" width="3.5" height="3.5" fill="#3f7f10" transform="translate(298.89 156.40) rotate(-2.3)"/>
<rect x="-1.75" y="-1.75" width="3.5" height="3.5" fill="#3f7f10" transform="translate(298.56 150.92) rotate(-4.6)"/>
<rect x="-1.75" y="-1.75" width="3.5" height="3.5" fill="#3f7f10" transform="translate(297.23 140.00) rotate(-9.2)"/>
<rect x="-1.75" y="-1.75" width="3.5" height="3.5" fill="#3f7f10" transform="translate(283.36 98.47) rotate(-27.7)"/>
<rect x="-1.75" y="-1.75" width="3.5" height="3.5" fill="#3f7f10" transform="translate(280.71 93.65) rotate(-30.0)"/>
<rect x="-1.75" y="-1.75" width="3.5" height="3.5" fill="#3f7f10" transform="translate(277.87 88.95) rotate(-32.3)"/>
<rect x="-1.75" y="-1.75" width="3.5" height="3.5" fill="#3f7f10" transform="translate(274.84 84.36) rotate(-34.6)"/>
<rect x="-1.75" y="-1.75" width="3.5" height="3.5" fill="#3f7f10" transform="translate(162.50 298.40) rotate(-270.0)"/>
<rect x="-1.75" y="-1.75" width="3.5" height="3.5" fill="#3f7f10" transform="translate(168.00 298.29) rotate(-272.3)"/>
<rect x="-1.75" y="-1.75" width="3.5" height="3.5" fill="#3f7f10" transform="translate(173.48 297.96) rotate(-274.6)"/>
<rect x="-1.75" y="-1.75" width="3.5" height="3.5" fill="#3f7f10" transform="translate(178.95 297.40) rotate(-276.9)"/>
<rect x="-1.75" y="-1.75" width="3.5" height="3.5" fill="#3f7f10" transform="translate(184.40 296.63) rotate(-279.2)"/>
<rect x="-1.75" y="-1.75" width="3.5" height="3.5" fill="#3f7f10" transform="translate(189.80 295.64) rotate(-281.5)"/>
<rect x="-1.75" y="-1.75" width="3.5" height="3.5" fill="#3f7f10" transform="translate(195.17 294.43) rotate(-283.8)"/>
<rect x="-1.75" y="-1.75" width="3.5" height="3.5" fill="#3f7f10" transform="translate(200.48 293.01) rotate(-286.2)"/>
<rect x="-1.75" y="-1.75" width="3.5" height="3.5" fill="#3f7f10" transform="translate(205.73 291.38) rotate(-288.5)"/>
<rect x="-1.75" y="-1.75" width="3.5" height="3.5" fill="#3f7f10" transform="translate(210.90 289.53) rotate(-290.8)"/>
<rect x="-1.75" y="-1.75" width="3.5" height="3.5" fill="#3f7f10" transform="translate(216.00 287.48) rotate(-293.1)"/>
<rect x="-1.75" y="-1.75" width="3.5" height="3.5" fill="#3f7f10" transform="translate(221.02 285.22) rotate(-295.4)"/>
<rect x="-1.75" y="-1.75" width="3.5" height="3.5" fill="#3f7f10" transform="translate(225.93 282.76) rotate(-297.7)"/>
<rect x="-1.75" y="-1.75" width="3.5" height="3.5" fill="#3f7f10" transform="translate(230.75 280.11) rotate(-300.0)"/>
<rect x="-1.75" y="-1.75" width="3.5" height="3.5" fill="#3f7f10" transform="translate(235.45 277.27) rotate(-302.3)"/>
<rect x="-1.75" y="-1.75" width="3.5" height="3.5" fill="#3f7f10" transform="translate(253.02 264.07) rotate(-311.5)"/>
<rect x="-1.75" y="-1.75" width="3.5" height="3.5" fill="#3f7f10" transform="translate(257.06 260.34) rotate(-313.8)"/>
<rect x="-1.75" y="-1.75" width="3.5" height="3.5" fill="#3f7f10" transform="translate(271.62 243.90) rotate(-323.1)"/>
<rect x="-1.75" y="-1.75" width="3.5" height="3.5" fill="#3f7f10" transform="translate(274.84 239.44) rotate(-325.4)"/>
<rect x="-1.75" y="-1.75" width="3.5" height="3.5" fill="#3f7f10" transform="translate(277.87 234.85) rotate(-327.7)"/>
<rect x="-1.75" y="-1.75" width="3.5" height="3.5" fill="#3f7f10" transform="translate(280.71 230.15) rotate(-330.0)"/>
<rect x="-1.75" y="-1.75" width="3.5" height="3.5" fill="#3f7f10" transform="translate(283.36 225.33) rotate(-332.3)"/>
<rect x="-1.75" y="-1.75" width="3.5" height="3.5" fill="#3f7f10" transform="translate(285.82 220.42) rotate(-334.6)"/>
<rect x="-1.75" y="-1.75" width="3.5" height="3.5" fill="#3f7f10" transform="translate(288.08 215.40) rotate(-336.9)"/>
<rect x="-1.75" y="-1.75" width="3.5" height="3.5" fill="#3f7f10" transform="translate(291.98 205.13) rotate(-341.5)"/>
<rect x="-1.75" y="-1.75" width="3.5" height="3.5" fill="#3f7f10" transform="translate(293.61 199.88) rotate(-343.8)"/>
<rect x="-1.75" y="-1.75" width="3.5" height="3.5" fill="#3f7f10" transform="translate(297.23 183.80) rotate(-350.8)"/>
<rect x="-1.75" y="-1.75" width="3.5" height="3.5" fill="#3f7f10" transform="translate(298.00 178.35) rotate(-353.1)"/>
<rect x="-1.75" y="-1.75" width="3.5" height="3.5" fill="#3f7f10" transform="translate(298.56 172.88) rotate(-355.4)"/>
<rect x="-1.75" y="-1.75" width="3.5" height="3.5" fill="#3f7f10" transform="translate(298.89 167.40) rotate(-357.7)"/>
<rect x="-1.75" y="-1.75" width="3.5" height="3.5" fill="#a8ec70" transform="translate(301.34 133.56) rotate(-11.5)"/>
<rect x="-1.75" y="-1.75" width="3.5" height="3.5" fill="#a8ec70" transform="translate(300.08 127.99) rotate(-13.8)"/>
<rect x="-1.75" y="-1.75" width="3.5" height="3.5" fill="#a8ec70" transform="translate(298.61 122.48) rotate(-16.2)"/>
<rect x="-1.75" y="-1.75" width="3.5" height="3.5" fill="#a8ec70" transform="translate(296.91 117.03) rotate(-18.5)"/>
<rect x="-1.75" y="-1.75" width="3.5" height="3.5" fill="#a8ec70" transform="translate(294.99 111.65) rotate(-20.8)"/>
<rect x="-1.75" y="-1.75" width="3.5" height="3.5" fill="#a8ec70" transform="translate(292.86 106.36) rotate(-23.1)"/>
<rect x="-1.75" y="-1.75" width="3.5" height="3.5" fill="#a8ec70" transform="translate(290.52 101.15) rotate(-25.4)"/>
<rect x="-1.75" y="-1.75" width="3.5" height="3.5" fill="#a8ec70" transform="translate(260.66 59.71) rotate(-46.2)"/>
<rect x="-1.75" y="-1.75" width="3.5" height="3.5" fill="#a8ec70" transform="translate(256.46 55.84) rotate(-48.5)"/>
<rect x="-1.75" y="-1.75" width="3.5" height="3.5" fill="#a8ec70" transform="translate(252.12 52.14) rotate(-50.8)"/>
<rect x="-1.75" y="-1.75" width="3.5" height="3.5" fill="#a8ec70" transform="translate(247.63 48.62) rotate(-53.1)"/>
<rect x="-1.75" y="-1.75" width="3.5" height="3.5" fill="#a8ec70" transform="translate(242.99 45.28) rotate(-55.4)"/>
<rect x="-1.75" y="-1.75" width="3.5" height="3.5" fill="#a8ec70" transform="translate(145.42 21.23) rotate(-96.9)"/>
<rect x="-1.75" y="-1.75" width="3.5" height="3.5" fill="#a8ec70" transform="translate(139.77 22.03) rotate(-99.2)"/>
<rect x="-1.75" y="-1.75" width="3.5" height="3.5" fill="#a8ec70" transform="translate(23.66 133.56) rotate(-168.5)"/>
<rect x="-1.75" y="-1.75" width="3.5" height="3.5" fill="#a8ec70" transform="translate(22.63 139.17) rotate(-170.8)"/>
<rect x="-1.75" y="-1.75" width="3.5" height="3.5" fill="#a8ec70" transform="translate(21.83 144.82) rotate(-173.1)"/>
<rect x="-1.75" y="-1.75" width="3.5" height="3.5" fill="#a8ec70" transform="translate(21.26 150.50) rotate(-175.4)"/>
<rect x="-1.75" y="-1.75" width="3.5" height="3.5" fill="#a8ec70" transform="translate(20.91 156.19) rotate(-177.7)"/>
<rect x="-1.75" y="-1.75" width="3.5" height="3.5" fill="#a8ec70" transform="translate(20.80 161.90) rotate(-180.0)"/>
<rect x="-1.75" y="-1.75" width="3.5" height="3.5" fill="#a8ec70" transform="translate(20.91 167.61) rotate(-182.3)"/>
<rect x="-1.75" y="-1.75" width="3.5" height="3.5" fill="#a8ec70" transform="translate(21.26 173.30) rotate(-184.6)"/>
<rect x="-1.75" y="-1.75" width="3.5" height="3.5" fill="#a8ec70" transform="translate(23.66 190.24) rotate(-191.5)"/>
<rect x="-1.75" y="-1.75" width="3.5" height="3.5" fill="#a8ec70" transform="translate(24.92 195.81) rotate(-193.8)"/>
<rect x="-1.75" y="-1.75" width="3.5" height="3.5" fill="#a8ec70" transform="translate(26.39 201.32) rotate(-196.2)"/>
<rect x="-1.75" y="-1.75" width="3.5" height="3.5" fill="#a8ec70" transform="translate(28.09 206.77) rotate(-198.5)"/>
<rect x="-1.75" y="-1.75" width="3.5" height="3.5" fill="#a8ec70" transform="translate(30.01 212.15) rotate(-200.8)"/>
<rect x="-1.75" y="-1.75" width="3.5" height="3.5" fill="#a8ec70" transform="translate(32.14 217.44) rotate(-203.1)"/>
<rect x="-1.75" y="-1.75" width="3.5" height="3.5" fill="#a8ec70" transform="translate(34.48 222.65) rotate(-205.4)"/>
<rect x="-1.75" y="-1.75" width="3.5" height="3.5" fill="#a8ec70" transform="translate(37.03 227.75) rotate(-207.7)"/>
<rect x="-1.75" y="-1.75" width="3.5" height="3.5" fill="#a8ec70" transform="translate(39.78 232.75) rotate(-210.0)"/>
<rect x="-1.75" y="-1.75" width="3.5" height="3.5" fill="#a8ec70" transform="translate(42.74 237.63) rotate(-212.3)"/>
<rect x="-1.75" y="-1.75" width="3.5" height="3.5" fill="#a8ec70" transform="translate(45.88 242.39) rotate(-214.6)"/>
<rect x="-1.75" y="-1.75" width="3.5" height="3.5" fill="#a8ec70" transform="translate(49.22 247.03) rotate(-216.9)"/>
<rect x="-1.75" y="-1.75" width="3.5" height="3.5" fill="#a8ec70" transform="translate(52.74 251.52) rotate(-219.2)"/>
<rect x="-1.75" y="-1.75" width="3.5" height="3.5" fill="#a8ec70" transform="translate(56.44 255.86) rotate(-221.5)"/>
<rect x="-1.75" y="-1.75" width="3.5" height="3.5" fill="#a8ec70" transform="translate(60.31 260.06) rotate(-223.8)"/>
<rect x="-1.75" y="-1.75" width="3.5" height="3.5" fill="#a8ec70" transform="translate(64.34 264.09) rotate(-226.2)"/>
<rect x="-1.75" y="-1.75" width="3.5" height="3.5" fill="#a8ec70" transform="translate(68.54 267.96) rotate(-228.5)"/>
<rect x="-1.75" y="-1.75" width="3.5" height="3.5" fill="#a8ec70" transform="translate(72.88 271.66) rotate(-230.8)"/>
<rect x="-1.75" y="-1.75" width="3.5" height="3.5" fill="#a8ec70" transform="translate(77.37 275.18) rotate(-233.1)"/>
<rect x="-1.75" y="-1.75" width="3.5" height="3.5" fill="#a8ec70" transform="translate(86.77 281.66) rotate(-237.7)"/>
<rect x="-1.75" y="-1.75" width="3.5" height="3.5" fill="#a8ec70" transform="translate(96.65 287.37) rotate(-242.3)"/>
<rect x="-1.75" y="-1.75" width="3.5" height="3.5" fill="#a8ec70" transform="translate(101.75 289.92) rotate(-244.6)"/>
<rect x="-1.75" y="-1.75" width="3.5" height="3.5" fill="#a8ec70" transform="translate(112.25 294.39) rotate(-249.2)"/>
<rect x="-1.75" y="-1.75" width="3.5" height="3.5" fill="#a8ec70" transform="translate(117.63 296.31) rotate(-251.5)"/>
<rect x="-1.75" y="-1.75" width="3.5" height="3.5" fill="#a8ec70" transform="translate(123.08 298.01) rotate(-253.8)"/>
<rect x="-1.75" y="-1.75" width="3.5" height="3.5" fill="#a8ec70" transform="translate(139.77 301.77) rotate(-260.8)"/>
<rect x="-1.75" y="-1.75" width="3.5" height="3.5" fill="#a8ec70" transform="translate(145.42 302.57) rotate(-263.1)"/>
<rect x="-1.75" y="-1.75" width="3.5" height="3.5" fill="#a8ec70" transform="translate(156.79 303.49) rotate(-267.7)"/>
<rect x="-1.75" y="-1.75" width="3.5" height="3.5" fill="#a8ec70" transform="translate(242.99 278.52) rotate(-304.6)"/>
<rect x="-1.75" y="-1.75" width="3.5" height="3.5" fill="#a8ec70" transform="translate(247.63 275.18) rotate(-306.9)"/>
<rect x="-1.75" y="-1.75" width="3.5" height="3.5" fill="#a8ec70" transform="translate(252.12 271.66) rotate(-309.2)"/>
<rect x="-1.75" y="-1.75" width="3.5" height="3.5" fill="#a8ec70" transform="translate(264.69 260.06) rotate(-316.2)"/>
<rect x="-1.75" y="-1.75" width="3.5" height="3.5" fill="#a8ec70" transform="translate(268.56 255.86) rotate(-318.5)"/>
<rect x="-1.75" y="-1.75" width="3.5" height="3.5" fill="#a8ec70" transform="translate(272.26 251.52) rotate(-320.8)"/>
<rect x="-1.75" y="-1.75" width="3.5" height="3.5" fill="#a8ec70" transform="translate(294.99 212.15) rotate(-339.2)"/>
<rect x="-1.75" y="-1.75" width="3.5" height="3.5" fill="#a8ec70" transform="translate(300.08 195.81) rotate(-346.2)"/>
<rect x="-1.75" y="-1.75" width="3.5" height="3.5" fill="#a8ec70" transform="translate(301.34 190.24) rotate(-348.5)"/>
<rect x="-1.75" y="-1.75" width="3.5" height="3.5" fill="#a8ec70" transform="translate(303.17 178.98) rotate(-353.1)"/>
<rect x="-1.75" y="-1.75" width="3.5" height="3.5" fill="#a8ec70" transform="translate(303.74 173.30) rotate(-355.4)"/>
<rect x="-1.75" y="-1.75" width="3.5" height="3.5" fill="#d4021c" transform="translate(307.60 138.32) rotate(-9.2)"/>
<rect x="-1.75" y="-1.75" width="3.5" height="3.5" fill="#d4021c" transform="translate(292.66 93.59) rotate(-27.7)"/>
<rect x="-1.75" y="-1.75" width="3.5" height="3.5" fill="#d4021c" transform="translate(289.81 88.40) rotate(-30.0)"/>
<rect x="-1.75" y="-1.75" width="3.5" height="3.5" fill="#d4021c" transform="translate(286.74 83.33) rotate(-32.3)"/>
<rect x="-1.75" y="-1.75" width="3.5" height="3.5" fill="#d4021c" transform="translate(283.48 78.39) rotate(-34.6)"/>
<rect x="-1.75" y="-1.75" width="3.5" height="3.5" fill="#d4021c" transform="translate(197.68 304.63) rotate(-283.8)"/>
<rect x="-1.75" y="-1.75" width="3.5" height="3.5" fill="#d4021c" transform="translate(203.40 303.10) rotate(-286.2)"/>
<rect x="-1.75" y="-1.75" width="3.5" height="3.5" fill="#d4021c" transform="translate(209.05 301.33) rotate(-288.5)"/>
<rect x="-1.75" y="-1.75" width="3.5" height="3.5" fill="#d4021c" transform="translate(214.63 299.35) rotate(-290.8)"/>
<rect x="-1.75" y="-1.75" width="3.5" height="3.5" fill="#d4021c" transform="translate(259.98 271.93) rotate(-311.5)"/>
<rect x="-1.75" y="-1.75" width="3.5" height="3.5" fill="#d4021c" transform="translate(264.33 267.92) rotate(-313.8)"/>
<rect x="-1.75" y="-1.75" width="3.5" height="3.5" fill="#d4021c" transform="translate(301.93 208.45) rotate(-341.5)"/>
<rect x="-1.75" y="-1.75" width="3.5" height="3.5" fill="#d4021c" transform="translate(303.70 202.80) rotate(-343.8)"/>
<rect x="-1.75" y="-1.75" width="3.5" height="3.5" fill="#d4021c" transform="translate(307.60 185.48) rotate(-350.8)"/>
<rect x="-1.75" y="-1.75" width="3.5" height="3.5" fill="#d4021c" transform="translate(308.43 179.62) rotate(-353.1)"/>
<rect x="-1.75" y="-1.75" width="3.5" height="3.5" fill="#d4021c" transform="translate(309.02 173.73) rotate(-355.4)"/>
<rect x="-1.75" y="-1.75" width="3.5" height="3.5" fill="#d4021c" transform="translate(309.38 167.82) rotate(-357.7)"/>
<rect x="-1.75" y="-1.75" width="3.5" height="3.5" fill="#8f1fff" transform="translate(284.02 253.21) rotate(-323.1)"/>
<rect x="-1.75" y="-1.75" width="3.5" height="3.5" fill="#8f1fff" transform="translate(287.59 248.25) rotate(-325.4)"/>
<rect x="-1.75" y="-1.75" width="3.5" height="3.5" fill="#8f1fff" transform="translate(290.97 243.14) rotate(-327.7)"/>
<rect x="-1.75" y="-1.75" width="3.5" height="3.5" fill="#8f1fff" transform="translate(294.14 237.90) rotate(-330.0)"/>
<rect x="-1.75" y="-1.75" width="3.5" height="3.5" fill="#8f1fff" transform="translate(297.09 232.54) rotate(-332.3)"/>
<rect x="-1.75" y="-1.75" width="3.5" height="3.5" fill="#8f1fff" transform="translate(299.82 227.06) rotate(-334.6)"/>
<rect x="-1.75" y="-1.75" width="3.5" height="3.5" fill="#8f1fff" transform="translate(302.34 221.48) rotate(-336.9)"/>
<path d="M312.6 219L331.5 227M267.7 202V205L306.4 223.6L325.5 239.8M295.5 216.6V220.5M288.6 215.1L314.9 252.5M256.2 226.2L307.2 263.3M247 230.9L294.8 272.5M233.7 236.4L286.5 286.4" fill="none" stroke="#1a1a1a" stroke-width="0.75"/>
<text x="332" y="230.8" font-size="7.4" font-family="Liberation Serif, serif" stroke="#111" stroke-width="0.12" fill="#111">(6)</text>
<text x="326.6" y="245.6" font-size="7.4" font-family="Liberation Serif, serif" stroke="#111" stroke-width="0.12" fill="#111">(5)</text>
<text x="315.8" y="258" font-size="7.4" font-family="Liberation Serif, serif" stroke="#111" stroke-width="0.12" fill="#111">(4)</text>
<text x="307.8" y="268.1" font-size="7.4" font-family="Liberation Serif, serif" stroke="#111" stroke-width="0.12" fill="#111">(3)</text>
<text x="294.8" y="278" font-size="7.4" font-family="Liberation Serif, serif" stroke="#111" stroke-width="0.12" fill="#111">(2)</text>
<text x="287.1" y="292.5" font-size="7.4" font-family="Liberation Serif, serif" stroke="#111" stroke-width="0.12" fill="#111">(1)</text>
<text x="130.5" y="78.2" font-size="7.8" font-family="Liberation Serif, serif" font-weight="bold" stroke="#111" stroke-width="0.12" fill="#111" textLength="17.5" lengthAdjust="spacingAndGlyphs">CC91</text>
<text x="131.9" y="237.5" font-size="7.8" font-family="Liberation Serif, serif" font-weight="bold" stroke="#111" stroke-width="0.12" fill="#111" textLength="21" lengthAdjust="spacingAndGlyphs">CC103</text>
<text x="242.8" y="182.5" font-size="7.8" font-family="Liberation Serif, serif" font-weight="bold" stroke="#111" stroke-width="0.12" fill="#111" textLength="13.4" lengthAdjust="spacingAndGlyphs">CC1</text>
<text font-size="7.8" font-family="Liberation Serif, serif" font-weight="bold" stroke="#111" stroke-width="0.12" fill="#111" transform="translate(238.2 117.5) rotate(66.8)" textLength="27.3" lengthAdjust="spacingAndGlyphs">CC61/67</text>
<path d="M4.4 318.2H39.3" stroke="#666" stroke-width="0.5"/>
<text x="14.2" y="318" font-size="5.1" font-family="Liberation Sans, sans-serif" fill="#333">0.0032</text>
<text x="374.6" y="27.8" font-size="8.3" font-family="Liberation Serif, serif" font-weight="bold" stroke="#111" stroke-width="0.12" fill="#111" textLength="16.7" lengthAdjust="spacingAndGlyphs">Key:</text>
<text x="371.3" y="48.4" font-size="7.7" font-family="Liberation Serif, serif" font-weight="bold" stroke="#111" stroke-width="0.12" fill="#111" textLength="35.7" lengthAdjust="spacingAndGlyphs">CC and ST</text>
<rect x="371.3" y="54.3" width="7.9" height="7.6" fill="#84d42c"/>
<text x="381.9" y="60.0" font-size="7.7" font-family="Liberation Serif, serif" stroke="#111" stroke-width="0.12" fill="#111" textLength="13.2" lengthAdjust="spacingAndGlyphs">CC1</text>
<rect x="371.3" y="67.0" width="7.9" height="7.6" fill="#4a1290"/>
<text x="381.9" y="72.7" font-size="7.7" font-family="Liberation Serif, serif" stroke="#111" stroke-width="0.12" fill="#111" textLength="17.5" lengthAdjust="spacingAndGlyphs">CC19</text>
<rect x="371.3" y="79.7" width="7.9" height="7.6" fill="#f98274"/>
<text x="381.9" y="85.4" font-size="7.7" font-family="Liberation Serif, serif" stroke="#111" stroke-width="0.12" fill="#111" textLength="17.5" lengthAdjust="spacingAndGlyphs">CC23</text>
<rect x="371.3" y="92.5" width="7.9" height="7.6" fill="#4a90e2"/>
<text x="381.9" y="98.2" font-size="7.7" font-family="Liberation Serif, serif" stroke="#111" stroke-width="0.12" fill="#111" textLength="29.3" lengthAdjust="spacingAndGlyphs">CC61/67</text>
<rect x="371.3" y="105.2" width="7.9" height="7.6" fill="#f5a21f"/>
<text x="381.9" y="110.9" font-size="7.7" font-family="Liberation Serif, serif" stroke="#111" stroke-width="0.12" fill="#111" textLength="17.5" lengthAdjust="spacingAndGlyphs">CC91</text>
<rect x="371.3" y="117.9" width="7.9" height="7.6" fill="#f7e11e"/>
<text x="381.9" y="123.6" font-size="7.7" font-family="Liberation Serif, serif" stroke="#111" stroke-width="0.12" fill="#111" textLength="21.6" lengthAdjust="spacingAndGlyphs">CC103</text>
<rect x="371.3" y="130.6" width="7.9" height="7.6" fill="#c75fe6"/>
<text x="381.9" y="136.3" font-size="7.7" font-family="Liberation Serif, serif" stroke="#111" stroke-width="0.12" fill="#111" textLength="17.3" lengthAdjust="spacingAndGlyphs">ST17</text>
<rect x="371.3" y="143.3" width="7.9" height="7.6" fill="#9c9c9c"/>
<text x="381.9" y="149.0" font-size="7.7" font-family="Liberation Serif, serif" stroke="#111" stroke-width="0.12" fill="#111" textLength="21.4" lengthAdjust="spacingAndGlyphs">ST343</text>
<rect x="371.3" y="156.1" width="7.9" height="7.6" fill="#f9c6de"/>
<text x="381.9" y="161.8" font-size="7.7" font-family="Liberation Serif, serif" stroke="#111" stroke-width="0.12" fill="#111" textLength="25.6" lengthAdjust="spacingAndGlyphs">ST1927</text>
<text x="424.1" y="48.4" font-size="7.7" font-family="Liberation Serif, serif" font-weight="bold" stroke="#111" stroke-width="0.12" fill="#111" textLength="30.5" lengthAdjust="spacingAndGlyphs">SLV with</text>
<text x="424.1" y="56.6" font-size="7.7" font-family="Liberation Serif, serif" font-weight="bold" stroke="#111" stroke-width="0.12" fill="#111" textLength="43" lengthAdjust="spacingAndGlyphs">atypical <tspan font-style="italic">glc</tspan>K</text>
<rect x="426.3" y="64.0" width="7.8" height="7.7" fill="#5b961d"/>
<text x="435.9" y="70.5" font-size="7.7" font-family="Liberation Serif, serif" stroke="#111" stroke-width="0.12" fill="#111" textLength="13.3" lengthAdjust="spacingAndGlyphs">CC1</text>
<rect x="426.3" y="76.8" width="7.8" height="7.7" fill="#3d45e8"/>
<text x="435.9" y="83.2" font-size="7.7" font-family="Liberation Serif, serif" stroke="#111" stroke-width="0.12" fill="#111" textLength="29.5" lengthAdjust="spacingAndGlyphs">CC61/67</text>
<rect x="426.3" y="89.5" width="7.8" height="7.7" fill="#e7b188"/>
<text x="435.9" y="96.0" font-size="7.7" font-family="Liberation Serif, serif" stroke="#111" stroke-width="0.12" fill="#111" textLength="17.5" lengthAdjust="spacingAndGlyphs">CC91</text>
<rect x="426.3" y="102.2" width="7.8" height="7.7" fill="#dccb12"/>
<text x="435.9" y="108.8" font-size="7.7" font-family="Liberation Serif, serif" stroke="#111" stroke-width="0.12" fill="#111" textLength="21.6" lengthAdjust="spacingAndGlyphs">CC103</text>
<text x="483.7" y="48.4" font-size="7.7" font-family="Liberation Serif, serif" font-weight="bold" stroke="#111" stroke-width="0.12" fill="#111" textLength="21.5" lengthAdjust="spacingAndGlyphs">CC103</text>
<text x="483.7" y="56.6" font-size="7.7" font-family="Liberation Serif, serif" font-weight="bold" stroke="#111" stroke-width="0.12" fill="#111" textLength="34.1" lengthAdjust="spacingAndGlyphs">subcluster</text>
<rect x="485.3" y="62.7" width="7.8" height="7.8" fill="#a9e8dd"/>
<text x="495.9" y="69.5" font-size="7.7" font-family="Liberation Serif, serif" stroke="#111" stroke-width="0.12" fill="#111">A</text>
<rect x="485.3" y="75.4" width="7.8" height="7.8" fill="#f6c46f"/>
<text x="495.9" y="82.2" font-size="7.7" font-family="Liberation Serif, serif" stroke="#111" stroke-width="0.12" fill="#111">B</text>
<rect x="485.3" y="88.1" width="7.8" height="7.8" fill="#8fb4e4"/>
<text x="495.9" y="94.9" font-size="7.7" font-family="Liberation Serif, serif" stroke="#111" stroke-width="0.12" fill="#111">C</text>
<rect x="485.3" y="100.8" width="7.8" height="7.8" fill="#e69bd9"/>
<text x="495.9" y="107.6" font-size="7.7" font-family="Liberation Serif, serif" stroke="#111" stroke-width="0.12" fill="#111">D</text>
<rect x="485.3" y="113.5" width="7.8" height="7.8" fill="#a2cc7c"/>
<text x="495.9" y="120.3" font-size="7.7" font-family="Liberation Serif, serif" stroke="#111" stroke-width="0.12" fill="#111">E</text>
<text x="430.6" y="141.7" font-size="7.7" font-family="Liberation Serif, serif" font-weight="bold" stroke="#111" stroke-width="0.12" fill="#111" textLength="55" lengthAdjust="spacingAndGlyphs">Temporal groups</text>
<rect x="431.3" y="148.8" width="8.4" height="8.2" fill="#1e5bb2"/>
<text x="442.8" y="156.6" font-size="7.7" font-family="Liberation Serif, serif" stroke="#111" stroke-width="0.12" fill="#111" textLength="41.3" lengthAdjust="spacingAndGlyphs">20th Century</text>
<rect x="431.3" y="163.2" width="8.4" height="8.2" fill="#9cc5f2"/>
<text x="442.8" y="170.7" font-size="7.7" font-family="Liberation Serif, serif" stroke="#111" stroke-width="0.12" fill="#111" textLength="40.6" lengthAdjust="spacingAndGlyphs">21st Century</text>
<text x="374.6" y="195.1" font-size="7.7" font-family="Liberation Serif, serif" font-weight="bold" stroke="#111" stroke-width="0.12" fill="#111" textLength="28.6" lengthAdjust="spacingAndGlyphs">Serotype</text>
<rect x="375.2" y="201.6" width="8.3" height="7.7" fill="#fb7d6f"/>
<text x="387" y="208.1" font-size="7.7" font-family="Liberation Serif, serif" stroke="#111" stroke-width="0.12" fill="#111">Ia</text>
<rect x="375.2" y="214.4" width="8.3" height="7.7" fill="#d59fdc"/>
<text x="387" y="220.9" font-size="7.7" font-family="Liberation Serif, serif" stroke="#111" stroke-width="0.12" fill="#111">II</text>
<rect x="375.2" y="227.3" width="8.3" height="7.7" fill="#f5a01e"/>
<text x="387" y="233.8" font-size="7.7" font-family="Liberation Serif, serif" stroke="#111" stroke-width="0.12" fill="#111">III</text>
<rect x="375.2" y="240.1" width="8.3" height="7.7" fill="#9c9c9c"/>
<text x="387" y="246.6" font-size="7.7" font-family="Liberation Serif, serif" stroke="#111" stroke-width="0.12" fill="#111">IV</text>
<rect x="375.2" y="253.0" width="8.3" height="7.7" fill="#6fa5d4"/>
<text x="387" y="259.5" font-size="7.7" font-family="Liberation Serif, serif" stroke="#111" stroke-width="0.12" fill="#111">NT</text>
<rect x="375.2" y="265.8" width="8.3" height="7.7" fill="#b5e888"/>
<text x="387" y="272.3" font-size="7.7" font-family="Liberation Serif, serif" stroke="#111" stroke-width="0.12" fill="#111">V</text>
<text x="430.1" y="196.2" font-size="7.7" font-family="Liberation Serif, serif" font-weight="bold" stroke="#111" stroke-width="0.12" fill="#111" textLength="37.6" lengthAdjust="spacingAndGlyphs">AMR genes</text>
<rect x="429.8" y="204.7" width="9.4" height="7.9" fill="#a8ec70"/>
<text x="443.1" y="211.1" font-size="7.7" font-family="Liberation Serif, serif" stroke="#111" stroke-width="0.12" fill="#111"><tspan font-style="italic">tet</tspan>O</text>
<rect x="429.8" y="217.5" width="9.4" height="7.9" fill="#4f921e"/>
<text x="443.1" y="223.9" font-size="7.7" font-family="Liberation Serif, serif" stroke="#111" stroke-width="0.12" fill="#111"><tspan font-style="italic">tet</tspan>M</text>
<rect x="429.8" y="230.4" width="9.4" height="7.9" fill="#f015e4"/>
<text x="443.1" y="236.8" font-size="7.7" font-family="Liberation Serif, serif" stroke="#111" stroke-width="0.12" fill="#111"><tspan font-style="italic">erm</tspan>A</text>
<rect x="429.8" y="243.2" width="9.4" height="7.9" fill="#ee9fe6"/>
<text x="443.1" y="249.7" font-size="7.7" font-family="Liberation Serif, serif" stroke="#111" stroke-width="0.12" fill="#111"><tspan font-style="italic">erm</tspan>B</text>
<rect x="429.8" y="256.1" width="9.4" height="7.9" fill="#43dcb6"/>
<text x="443.1" y="262.5" font-size="7.7" font-family="Liberation Serif, serif" stroke="#111" stroke-width="0.12" fill="#111"><tspan font-style="italic">aad</tspan>E</text>
<rect x="429.8" y="268.9" width="9.4" height="7.9" fill="#f5a01e"/>
<text x="443.1" y="275.3" font-size="7.7" font-family="Liberation Serif, serif" stroke="#111" stroke-width="0.12" fill="#111"><tspan font-style="italic">lnu</tspan>C</text>
<text x="487.3" y="196.5" font-size="7.7" font-family="Liberation Serif, serif" font-weight="bold" stroke="#111" stroke-width="0.12" fill="#111" textLength="19.5" lengthAdjust="spacingAndGlyphs">MGEs</text>
<rect x="488" y="202.7" width="8.2" height="7.5" fill="#d4021c"/>
<text x="500.5" y="209.5" font-size="7.7" font-family="Liberation Serif, serif" stroke="#111" stroke-width="0.12" fill="#111" textLength="22.2" lengthAdjust="spacingAndGlyphs">Tn<tspan font-style="italic">6090</tspan></text>
<rect x="488" y="213.4" width="8.2" height="7.4" fill="#8f1fff"/>
<text x="500.5" y="220.5" font-size="7.7" font-family="Liberation Serif, serif" stroke="#111" stroke-width="0.12" fill="#111" textLength="48" lengthAdjust="spacingAndGlyphs">ISLgar5 (IS256)</text>
</svg></body></html>
